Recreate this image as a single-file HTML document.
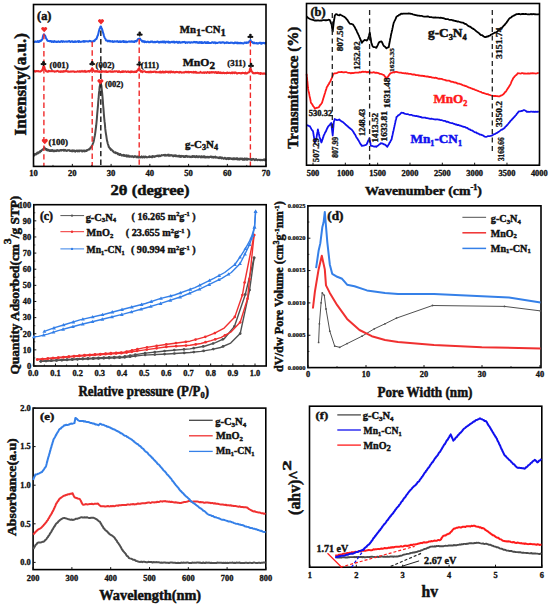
<!DOCTYPE html><html><head><meta charset="utf-8"><style>html,body{margin:0;padding:0;background:#fff;width:550px;height:606px;overflow:hidden}svg{display:block;font-family:"Liberation Serif",serif}</style></head><body><svg width="550" height="606" viewBox="0 0 550 606" font-family="Liberation Serif, serif">
<rect width="550" height="606" fill="#fff"/>
<polyline points="33.50,41.32 34.00,42.09 34.50,41.99 35.00,41.42 35.50,41.67 36.00,41.60 36.50,41.80 37.00,41.93 37.50,41.14 38.00,41.03 38.50,41.88 39.00,41.38 39.50,41.66 40.00,40.70 40.50,40.97 41.00,40.92 41.50,39.81 42.00,39.75 42.50,38.55 43.00,36.19 43.50,34.75 44.00,34.36 44.50,34.91 45.00,35.40 45.50,36.67 46.00,38.25 46.50,38.90 47.00,39.89 47.50,40.64 48.00,41.02 48.50,40.92 49.00,41.02 49.50,41.08 50.00,41.38 50.50,41.23 51.00,40.96 51.50,41.87 52.00,41.58 52.50,41.68 53.00,41.19 53.50,42.08 54.00,41.94 54.50,41.14 55.00,41.37 55.50,41.80 56.00,41.79 56.50,42.04 57.00,41.47 57.50,41.92 58.00,41.75 58.50,41.34 59.00,41.65 59.50,41.97 60.00,41.93 60.50,41.56 61.00,41.65 61.50,41.04 62.00,41.27 62.50,41.88 63.00,41.46 63.50,41.19 64.00,41.60 64.50,41.77 65.00,41.74 65.50,41.41 66.00,41.48 66.50,41.56 67.00,41.85 67.50,41.57 68.00,41.43 68.50,41.53 69.00,41.02 69.50,41.04 70.00,41.76 70.50,42.07 71.00,41.64 71.50,41.41 72.00,41.17 72.50,41.53 73.00,42.06 73.50,41.82 74.00,41.57 74.50,41.92 75.00,41.22 75.50,41.53 76.00,42.01 76.50,41.60 77.00,41.46 77.50,41.25 78.00,41.55 78.50,42.00 79.00,40.95 79.50,41.80 80.00,41.84 80.50,41.91 81.00,41.75 81.50,41.82 82.00,41.49 82.50,41.54 83.00,41.38 83.50,40.97 84.00,41.86 84.50,41.52 85.00,41.11 85.50,41.44 86.00,41.41 86.50,41.26 87.00,41.24 87.50,41.44 88.00,41.52 88.50,41.50 89.00,41.31 89.50,40.83 90.00,41.03 90.50,40.95 91.00,41.38 91.50,41.66 92.00,41.55 92.50,41.51 93.00,41.47 93.50,40.78 94.00,41.30 94.50,40.94 95.00,40.02 95.50,39.55 96.00,38.98 96.50,39.01 97.00,37.42 97.50,35.95 98.00,34.96 98.50,32.88 99.00,30.71 99.50,29.01 100.00,27.90 100.50,26.59 101.00,26.62 101.50,27.88 102.00,29.01 102.50,30.64 103.00,32.68 103.50,33.98 104.00,35.99 104.50,37.39 105.00,38.23 105.50,38.98 106.00,40.46 106.50,40.46 107.00,40.43 107.50,41.06 108.00,41.42 108.50,40.64 109.00,40.70 109.50,40.89 110.00,41.55 110.50,40.97 111.00,41.60 111.50,41.59 112.00,41.46 112.50,41.12 113.00,41.97 113.50,41.79 114.00,41.50 114.50,41.19 115.00,41.67 115.50,41.40 116.00,41.61 116.50,41.34 117.00,41.69 117.50,41.07 118.00,41.34 118.50,42.08 119.00,41.99 119.50,41.37 120.00,41.99 120.50,41.39 121.00,42.09 121.50,41.88 122.00,41.52 122.50,41.35 123.00,41.09 123.50,42.05 124.00,41.13 124.50,41.99 125.00,42.16 125.50,41.73 126.00,41.29 126.50,42.06 127.00,42.18 127.50,41.89 128.00,41.68 128.50,41.54 129.00,41.50 129.50,41.35 130.00,41.87 130.50,41.60 131.00,41.34 131.50,41.24 132.00,41.85 132.50,41.44 133.00,41.65 133.50,41.44 134.00,42.02 134.50,42.00 135.00,40.96 135.50,41.03 136.00,40.96 136.50,41.38 137.00,40.73 137.50,39.70 138.00,38.96 138.50,38.88 139.00,38.66 139.50,38.72 140.00,38.43 140.50,39.60 141.00,40.00 141.50,40.34 142.00,41.35 142.50,40.86 143.00,41.64 143.50,41.09 144.00,41.28 144.50,42.15 145.00,41.42 145.50,42.05 146.00,41.89 146.50,42.17 147.00,41.67 147.50,41.65 148.00,41.61 148.50,42.25 149.00,41.97 149.50,42.36 150.00,42.30 150.50,41.48 151.00,41.94 151.50,41.46 152.00,41.39 152.50,41.43 153.00,42.31 153.50,42.23 154.00,42.28 154.50,41.75 155.00,42.06 155.50,42.25 156.00,41.81 156.50,42.03 157.00,41.65 157.50,41.50 158.00,41.71 158.50,42.40 159.00,42.04 159.50,42.45 160.00,41.94 160.50,41.74 161.00,42.31 161.50,42.36 162.00,41.47 162.50,42.20 163.00,41.57 163.50,41.61 164.00,42.46 164.50,41.54 165.00,41.76 165.50,42.59 166.00,41.97 166.50,41.64 167.00,41.71 167.50,41.80 168.00,42.36 168.50,41.66 169.00,42.55 169.50,41.97 170.00,42.63 170.50,42.57 171.00,41.90 171.50,41.86 172.00,42.11 172.50,41.70 173.00,42.32 173.50,41.65 174.00,41.62 174.50,42.70 175.00,41.95 175.50,42.29 176.00,42.13 176.50,41.99 177.00,41.72 177.50,42.66 178.00,42.73 178.50,42.74 179.00,41.80 179.50,41.92 180.00,42.37 180.50,42.77 181.00,42.30 181.50,42.46 182.00,42.44 182.50,42.00 183.00,42.32 183.50,42.07 184.00,42.01 184.50,41.83 185.00,42.06 185.50,42.84 186.00,42.25 186.50,42.49 187.00,42.48 187.50,42.82 188.00,42.22 188.50,42.13 189.00,42.16 189.50,42.15 190.00,42.74 190.50,42.80 191.00,42.16 191.50,42.20 192.00,42.44 192.50,42.48 193.00,42.50 193.50,42.12 194.00,41.88 194.50,42.14 195.00,41.95 195.50,42.49 196.00,41.96 196.50,41.97 197.00,42.60 197.50,42.22 198.00,42.78 198.50,42.46 199.00,42.87 199.50,42.10 200.00,42.49 200.50,42.82 201.00,42.03 201.50,43.00 202.00,42.15 202.50,42.82 203.00,43.06 203.50,42.88 204.00,42.34 204.50,42.11 205.00,42.56 205.50,43.01 206.00,42.33 206.50,43.00 207.00,42.18 207.50,43.03 208.00,42.07 208.50,42.39 209.00,43.04 209.50,42.94 210.00,43.06 210.50,42.99 211.00,42.89 211.50,42.83 212.00,42.28 212.50,42.56 213.00,42.27 213.50,42.89 214.00,42.84 214.50,42.39 215.00,42.19 215.50,43.18 216.00,43.02 216.50,42.74 217.00,42.74 217.50,43.08 218.00,42.65 218.50,42.60 219.00,42.54 219.50,42.46 220.00,42.21 220.50,42.90 221.00,42.65 221.50,42.82 222.00,42.27 222.50,42.60 223.00,42.37 223.50,42.36 224.00,42.51 224.50,43.14 225.00,42.68 225.50,42.69 226.00,42.92 226.50,42.51 227.00,42.27 227.50,42.85 228.00,42.82 228.50,42.99 229.00,42.77 229.50,43.05 230.00,43.10 230.50,42.56 231.00,42.85 231.50,42.84 232.00,42.57 232.50,42.78 233.00,42.95 233.50,43.33 234.00,43.35 234.50,42.65 235.00,43.06 235.50,42.41 236.00,42.44 236.50,42.93 237.00,43.33 237.50,42.55 238.00,43.22 238.50,43.35 239.00,42.73 239.50,43.15 240.00,43.32 240.50,42.80 241.00,43.17 241.50,43.20 242.00,43.05 242.50,43.34 243.00,43.38 243.50,43.44 244.00,43.01 244.50,42.56 245.00,42.63 245.50,42.57 246.00,42.93 246.50,43.09 247.00,42.26 247.50,42.86 248.00,42.76 248.50,42.14 249.00,41.99 249.50,41.09 250.00,41.09 250.50,40.00 251.00,41.38 251.50,41.83 252.00,42.15 252.50,42.10 253.00,43.04 253.50,43.24 254.00,42.44 254.50,43.21 255.00,43.34 255.50,43.18 256.00,43.26 256.50,43.01 257.00,43.55 257.50,43.63 258.00,43.00 258.50,43.47 259.00,43.08 259.50,42.80 260.00,42.99 260.50,42.78 261.00,43.65 261.50,43.71 262.00,42.80 262.50,43.34 263.00,43.13 263.50,42.82 264.00,43.03 264.50,42.98 265.00,43.54 265.50,42.73 266.00,42.94" fill="none" stroke="#1f5ee8" stroke-width="2.0" stroke-linejoin="round" />
<polyline points="33.50,71.21 34.00,70.75 34.50,71.42 35.00,71.39 35.50,71.64 36.00,70.95 36.50,71.03 37.00,71.31 37.50,71.01 38.00,71.34 38.50,70.96 39.00,71.42 39.50,71.52 40.00,71.50 40.50,71.63 41.00,71.07 41.50,70.78 42.00,70.65 42.50,69.50 43.00,67.66 43.50,65.90 44.00,66.02 44.50,67.51 45.00,69.81 45.50,69.99 46.00,71.14 46.50,71.11 47.00,71.66 47.50,71.48 48.00,71.75 48.50,70.85 49.00,71.27 49.50,71.36 50.00,71.09 50.50,71.31 51.00,71.15 51.50,71.35 52.00,70.77 52.50,71.26 53.00,71.28 53.50,71.12 54.00,71.23 54.50,71.65 55.00,71.55 55.50,71.34 56.00,71.51 56.50,71.22 57.00,71.03 57.50,70.81 58.00,71.12 58.50,71.47 59.00,71.79 59.50,71.73 60.00,71.38 60.50,71.91 61.00,71.33 61.50,71.74 62.00,71.28 62.50,71.65 63.00,71.92 63.50,71.17 64.00,71.02 64.50,71.52 65.00,71.42 65.50,71.23 66.00,70.85 66.50,71.27 67.00,71.31 67.50,71.29 68.00,71.79 68.50,71.49 69.00,71.66 69.50,71.84 70.00,71.68 70.50,71.40 71.00,71.68 71.50,71.56 72.00,71.57 72.50,71.55 73.00,71.31 73.50,71.56 74.00,71.56 74.50,71.90 75.00,71.73 75.50,71.80 76.00,71.71 76.50,71.77 77.00,71.54 77.50,71.26 78.00,71.17 78.50,71.66 79.00,71.84 79.50,71.48 80.00,71.05 80.50,71.80 81.00,71.41 81.50,71.40 82.00,70.93 82.50,71.44 83.00,71.70 83.50,71.35 84.00,71.27 84.50,71.60 85.00,70.90 85.50,71.44 86.00,71.92 86.50,71.63 87.00,71.31 87.50,71.62 88.00,71.51 88.50,71.06 89.00,71.03 89.50,71.72 90.00,70.92 90.50,70.42 91.00,70.68 91.50,69.46 92.00,68.44 92.50,68.72 93.00,69.89 93.50,70.10 94.00,71.15 94.50,71.46 95.00,71.68 95.50,71.13 96.00,71.53 96.50,71.13 97.00,71.51 97.50,71.09 98.00,71.78 98.50,71.87 99.00,71.28 99.50,71.17 100.00,71.99 100.50,71.71 101.00,71.87 101.50,70.98 102.00,71.94 102.50,71.64 103.00,71.31 103.50,71.44 104.00,71.81 104.50,71.84 105.00,71.19 105.50,71.67 106.00,71.17 106.50,72.06 107.00,71.49 107.50,72.01 108.00,71.81 108.50,71.68 109.00,71.30 109.50,71.60 110.00,71.18 110.50,71.18 111.00,71.82 111.50,71.43 112.00,71.87 112.50,71.31 113.00,71.84 113.50,71.84 114.00,71.39 114.50,71.18 115.00,71.50 115.50,71.61 116.00,71.18 116.50,71.28 117.00,71.14 117.50,71.74 118.00,72.07 118.50,71.33 119.00,71.13 119.50,71.87 120.00,72.00 120.50,72.17 121.00,71.79 121.50,71.49 122.00,72.04 122.50,71.25 123.00,71.89 123.50,71.23 124.00,71.57 124.50,71.68 125.00,71.56 125.50,71.33 126.00,71.40 126.50,72.05 127.00,71.66 127.50,71.80 128.00,71.39 128.50,71.95 129.00,71.53 129.50,71.82 130.00,72.17 130.50,72.27 131.00,71.22 131.50,72.05 132.00,72.12 132.50,71.53 133.00,71.59 133.50,71.81 134.00,72.17 134.50,71.59 135.00,72.11 135.50,71.95 136.00,71.24 136.50,71.97 137.00,70.76 137.50,70.46 138.00,70.32 138.50,68.80 139.00,68.68 139.50,68.88 140.00,70.12 140.50,71.25 141.00,71.77 141.50,71.05 142.00,71.19 142.50,72.10 143.00,71.25 143.50,71.53 144.00,71.37 144.50,71.36 145.00,71.30 145.50,71.98 146.00,72.11 146.50,72.05 147.00,72.23 147.50,72.04 148.00,71.74 148.50,72.01 149.00,72.39 149.50,72.04 150.00,71.60 150.50,71.41 151.00,72.38 151.50,72.00 152.00,71.74 152.50,72.03 153.00,71.98 153.50,71.94 154.00,71.44 154.50,71.77 155.00,71.84 155.50,71.61 156.00,72.36 156.50,71.86 157.00,72.13 157.50,72.19 158.00,72.23 158.50,72.21 159.00,72.24 159.50,71.70 160.00,72.50 160.50,71.60 161.00,72.44 161.50,72.38 162.00,72.38 162.50,71.50 163.00,71.55 163.50,72.35 164.00,71.98 164.50,71.87 165.00,72.55 165.50,71.52 166.00,72.06 166.50,71.97 167.00,71.62 167.50,71.92 168.00,72.27 168.50,72.47 169.00,71.53 169.50,72.08 170.00,71.61 170.50,72.39 171.00,71.61 171.50,71.56 172.00,71.95 172.50,72.33 173.00,71.88 173.50,71.68 174.00,72.41 174.50,72.43 175.00,72.49 175.50,71.89 176.00,72.02 176.50,71.83 177.00,72.18 177.50,71.93 178.00,71.94 178.50,72.44 179.00,72.63 179.50,72.23 180.00,71.70 180.50,72.31 181.00,72.09 181.50,72.69 182.00,72.40 182.50,72.53 183.00,72.38 183.50,72.21 184.00,72.61 184.50,72.54 185.00,71.95 185.50,71.81 186.00,72.04 186.50,72.21 187.00,71.75 187.50,72.03 188.00,72.28 188.50,71.70 189.00,72.56 189.50,72.38 190.00,72.01 190.50,72.00 191.00,72.06 191.50,72.04 192.00,72.51 192.50,72.24 193.00,72.27 193.50,71.86 194.00,72.71 194.50,72.06 195.00,72.07 195.50,71.79 196.00,72.79 196.50,72.25 197.00,72.73 197.50,72.75 198.00,72.80 198.50,72.63 199.00,72.76 199.50,72.76 200.00,72.63 200.50,71.91 201.00,72.34 201.50,72.41 202.00,72.88 202.50,72.66 203.00,72.58 203.50,72.63 204.00,72.22 204.50,72.87 205.00,72.55 205.50,72.29 206.00,72.37 206.50,72.94 207.00,72.46 207.50,72.07 208.00,72.06 208.50,72.66 209.00,72.53 209.50,72.92 210.00,72.13 210.50,72.39 211.00,72.75 211.50,72.01 212.00,72.08 212.50,72.58 213.00,72.28 213.50,72.11 214.00,72.29 214.50,72.71 215.00,72.60 215.50,72.12 216.00,72.12 216.50,72.98 217.00,72.76 217.50,72.26 218.00,73.02 218.50,72.11 219.00,72.50 219.50,73.03 220.00,72.89 220.50,72.43 221.00,73.11 221.50,72.80 222.00,73.10 222.50,73.14 223.00,72.63 223.50,72.92 224.00,72.78 224.50,73.23 225.00,73.08 225.50,73.01 226.00,73.11 226.50,73.33 227.00,72.52 227.50,72.47 228.00,73.08 228.50,73.11 229.00,72.84 229.50,72.82 230.00,72.73 230.50,73.27 231.00,73.18 231.50,72.96 232.00,72.37 232.50,73.27 233.00,72.85 233.50,72.56 234.00,72.69 234.50,73.13 235.00,72.38 235.50,72.52 236.00,72.73 236.50,73.38 237.00,73.23 237.50,73.49 238.00,73.02 238.50,73.06 239.00,73.05 239.50,73.03 240.00,73.05 240.50,73.37 241.00,73.52 241.50,72.93 242.00,73.18 242.50,72.83 243.00,72.83 243.50,73.05 244.00,73.14 244.50,73.11 245.00,73.57 245.50,72.67 246.00,73.18 246.50,73.56 247.00,73.25 247.50,73.01 248.00,72.67 248.50,72.40 249.00,72.31 249.50,71.02 250.00,69.10 250.50,68.36 251.00,69.40 251.50,71.00 252.00,71.75 252.50,72.54 253.00,73.23 253.50,72.90 254.00,73.39 254.50,73.14 255.00,73.02 255.50,73.18 256.00,72.83 256.50,73.11 257.00,73.19 257.50,72.77 258.00,72.96 258.50,73.07 259.00,73.74 259.50,73.45 260.00,73.13 260.50,73.93 261.00,73.12 261.50,73.42 262.00,73.67 262.50,73.63 263.00,73.36 263.50,73.75 264.00,73.44 264.50,73.70 265.00,73.46 265.50,74.00 266.00,73.73" fill="none" stroke="#f02a2a" stroke-width="2.0" stroke-linejoin="round" />
<polyline points="33.50,154.82 33.85,154.67 34.20,155.55 34.55,154.40 34.90,153.93 35.25,154.02 35.60,154.11 35.95,154.52 36.30,153.60 36.65,153.82 37.00,153.75 37.35,152.57 37.70,153.04 38.05,153.33 38.40,152.58 38.75,152.39 39.10,151.97 39.45,152.56 39.80,152.40 40.15,151.07 40.50,151.45 40.85,151.04 41.20,151.12 41.55,150.13 41.90,150.01 42.25,149.68 42.60,149.55 42.95,149.52 43.30,149.14 43.65,148.62 44.00,148.14 44.35,147.38 44.70,147.95 45.05,148.60 45.40,148.44 45.75,149.03 46.10,149.81 46.45,149.01 46.80,150.15 47.15,149.32 47.50,149.81 47.85,150.58 48.20,149.75 48.55,150.23 48.90,150.16 49.25,150.82 49.60,151.00 49.95,150.13 50.30,150.43 50.65,150.99 51.00,150.56 51.35,150.16 51.70,150.90 52.05,150.37 52.40,150.59 52.75,149.99 53.10,151.29 53.45,150.88 53.80,151.24 54.15,151.32 54.50,150.43 54.85,150.80 55.20,150.66 55.55,151.06 55.90,151.15 56.25,150.33 56.60,150.36 56.95,150.90 57.30,150.50 57.65,150.11 58.00,150.17 58.35,150.62 58.70,150.65 59.05,151.09 59.40,150.51 59.75,150.59 60.10,149.97 60.45,150.29 60.80,150.09 61.15,150.60 61.50,150.02 61.85,149.93 62.20,150.10 62.55,150.21 62.90,150.01 63.25,150.37 63.60,149.85 63.95,150.78 64.30,150.57 64.65,150.39 65.00,149.80 65.35,150.17 65.70,150.67 66.05,150.64 66.40,150.88 66.75,151.01 67.10,150.29 67.45,150.55 67.80,150.36 68.15,150.12 68.50,150.16 68.85,150.34 69.20,150.15 69.55,150.76 69.90,150.99 70.25,150.83 70.60,151.02 70.95,150.44 71.30,150.43 71.65,150.93 72.00,151.36 72.35,150.78 72.70,150.26 73.05,150.30 73.40,150.69 73.75,151.12 74.10,150.45 74.45,150.65 74.80,151.26 75.15,151.67 75.50,150.84 75.85,151.18 76.20,151.08 76.55,150.44 76.90,150.84 77.25,150.60 77.60,150.74 77.95,151.42 78.30,151.30 78.65,150.47 79.00,150.52 79.35,151.36 79.70,150.54 80.05,150.82 80.40,150.75 80.75,150.45 81.10,150.42 81.45,150.55 81.80,150.87 82.15,151.55 82.50,151.15 82.85,150.61 83.20,151.16 83.55,150.61 83.90,150.89 84.25,150.61 84.60,151.39 84.95,150.58 85.30,151.12 85.65,150.86 86.00,151.08 86.35,150.64 86.70,150.85 87.05,150.11 87.40,150.32 87.75,150.08 88.10,149.79 88.45,149.66 88.80,149.43 89.15,149.03 89.50,149.45 89.85,148.84 90.20,148.43 90.55,147.44 90.90,147.65 91.25,146.76 91.60,146.29 91.95,145.96 92.30,145.43 92.65,144.26 93.00,143.35 93.35,142.59 93.70,141.24 94.05,139.66 94.40,137.56 94.75,135.95 95.10,134.09 95.45,131.45 95.80,128.67 96.15,125.99 96.50,122.49 96.85,118.83 97.20,114.13 97.55,110.43 97.90,106.71 98.25,101.75 98.60,98.48 98.95,93.41 99.30,90.65 99.65,86.64 100.00,85.10 100.35,83.79 100.70,82.93 101.05,84.59 101.40,85.65 101.75,89.43 102.10,92.37 102.45,96.44 102.80,100.26 103.15,105.22 103.50,109.09 103.85,113.79 104.20,117.96 104.55,121.47 104.90,124.21 105.25,128.67 105.60,131.58 105.95,133.89 106.30,135.94 106.65,138.30 107.00,140.58 107.35,141.67 107.70,143.51 108.05,144.50 108.40,145.33 108.75,146.91 109.10,147.00 109.45,147.92 109.80,147.78 110.15,148.81 110.50,148.67 110.85,149.91 111.20,149.33 111.55,149.67 111.90,150.02 112.25,150.29 112.60,150.99 112.95,150.99 113.30,151.10 113.65,152.24 114.00,152.34 114.35,152.20 114.70,152.58 115.05,152.78 115.40,152.21 115.75,153.11 116.10,152.54 116.45,153.11 116.80,153.00 117.15,152.90 117.50,153.85 117.85,154.18 118.20,153.54 118.55,154.41 118.90,153.86 119.25,154.40 119.60,154.97 119.95,154.81 120.30,154.01 120.65,154.64 121.00,154.69 121.35,154.71 121.70,155.51 122.05,155.13 122.40,155.52 122.75,155.49 123.10,155.40 123.45,154.85 123.80,155.70 124.15,156.03 124.50,155.15 124.85,155.81 125.20,155.65 125.55,155.51 125.90,156.03 126.25,156.42 126.60,155.23 126.95,156.41 127.30,155.79 127.65,156.41 128.00,155.60 128.35,156.35 128.70,155.59 129.05,155.93 129.40,156.80 129.75,156.43 130.10,156.64 130.45,156.26 130.80,156.31 131.15,156.38 131.50,156.78 131.85,156.76 132.20,156.11 132.55,156.46 132.90,156.63 133.25,156.71 133.60,157.21 133.95,157.13 134.30,156.27 134.65,156.60 135.00,156.29 135.35,156.22 135.70,156.32 136.05,156.49 136.40,157.25 136.75,157.12 137.10,157.29 137.45,156.63 137.80,156.46 138.15,157.52 138.50,157.33 138.85,157.49 139.20,156.28 139.55,156.77 139.90,157.08 140.25,157.21 140.60,157.44 140.95,156.95 141.30,156.76 141.65,156.26 142.00,157.29 142.35,157.52 142.70,157.42 143.05,157.10 143.40,156.69 143.75,156.55 144.10,157.25 144.45,157.45 144.80,157.48 145.15,156.46 145.50,156.99 145.85,156.89 146.20,156.78 146.55,157.26 146.90,157.44 147.25,157.16 147.60,157.13 147.95,157.11 148.30,157.06 148.65,156.91 149.00,156.53 149.35,157.22 149.70,156.35 150.05,157.03 150.40,156.66 150.75,156.85 151.10,156.91 151.45,156.67 151.80,157.28 152.15,156.28 152.50,155.95 152.85,157.13 153.20,156.26 153.55,156.18 153.90,156.32 154.25,156.52 154.60,156.99 154.95,156.59 155.30,156.04 155.65,156.29 156.00,156.14 156.35,156.17 156.70,156.02 157.05,155.66 157.40,155.92 157.75,155.87 158.10,155.59 158.45,156.35 158.80,155.72 159.15,155.41 159.50,155.91 159.85,156.23 160.20,156.11 160.55,155.87 160.90,155.97 161.25,155.42 161.60,155.13 161.95,155.24 162.30,155.32 162.65,155.19 163.00,155.40 163.35,154.95 163.70,154.88 164.05,155.00 164.40,154.89 164.75,155.64 165.10,155.26 165.45,154.78 165.80,155.04 166.15,155.61 166.50,155.25 166.85,155.25 167.20,155.07 167.55,154.84 167.90,155.43 168.25,154.74 168.60,155.69 168.95,154.77 169.30,155.70 169.65,155.25 170.00,155.67 170.35,155.58 170.70,155.01 171.05,155.57 171.40,154.99 171.75,155.24 172.10,155.45 172.45,155.35 172.80,155.87 173.15,156.32 173.50,155.53 173.85,156.18 174.20,155.41 174.55,156.07 174.90,155.63 175.25,155.90 175.60,155.35 175.95,156.33 176.30,155.56 176.65,155.92 177.00,155.72 177.35,156.42 177.70,156.17 178.05,156.23 178.40,156.43 178.75,155.81 179.10,155.58 179.45,156.61 179.80,155.97 180.15,156.65 180.50,156.86 180.85,156.47 181.20,155.81 181.55,156.81 181.90,156.55 182.25,156.08 182.60,156.06 182.95,156.46 183.30,155.96 183.65,156.99 184.00,156.74 184.35,156.89 184.70,156.33 185.05,157.04 185.40,156.02 185.75,156.78 186.10,156.19 186.45,155.87 186.80,156.02 187.15,156.14 187.50,156.87 187.85,156.38 188.20,156.52 188.55,156.70 188.90,156.25 189.25,156.74 189.60,156.79 189.95,157.12 190.30,156.58 190.65,157.05 191.00,157.20 191.35,156.95 191.70,156.50 192.05,156.31 192.40,156.09 192.75,157.05 193.10,156.15 193.45,156.71 193.80,156.58 194.15,156.05 194.50,156.28 194.85,157.08 195.20,156.71 195.55,157.22 195.90,157.21 196.25,156.15 196.60,156.92 196.95,156.10 197.30,156.60 197.65,156.63 198.00,157.31 198.35,156.84 198.70,156.32 199.05,156.74 199.40,156.77 199.75,156.35 200.10,156.57 200.45,157.25 200.80,157.39 201.15,157.13 201.50,156.21 201.85,157.31 202.20,156.73 202.55,157.23 202.90,156.38 203.25,156.35 203.60,157.34 203.95,156.54 204.30,156.23 204.65,156.83 205.00,157.47 205.35,157.28 205.70,156.71 206.05,157.49 206.40,157.24 206.75,157.31 207.10,157.06 207.45,156.74 207.80,157.41 208.15,156.85 208.50,157.46 208.85,156.97 209.20,157.44 209.55,156.88 209.90,156.82 210.25,157.04 210.60,156.69 210.95,156.48 211.30,157.06 211.65,157.40 212.00,156.66 212.35,157.43 212.70,157.34 213.05,157.33 213.40,156.91 213.75,157.71 214.10,157.48 214.45,157.24 214.80,156.68 215.15,157.32 215.50,156.63 215.85,157.82 216.20,157.13 216.55,157.21 216.90,157.49 217.25,157.64 217.60,157.61 217.95,157.52 218.30,157.76 218.65,158.08 219.00,157.60 219.35,157.71 219.70,158.15 220.05,157.14 220.40,157.39 220.75,157.64 221.10,157.54 221.45,158.46 221.80,157.53 222.15,157.52 222.50,157.83 222.85,158.12 223.20,158.57 223.55,158.84 223.90,158.69 224.25,158.41 224.60,157.71 224.95,157.79 225.30,158.56 225.65,158.85 226.00,158.17 226.35,159.10 226.70,158.57 227.05,158.61 227.40,158.68 227.75,157.99 228.10,158.13 228.45,159.14 228.80,158.28 229.15,158.05 229.50,158.33 229.85,158.92 230.20,158.33 230.55,158.27 230.90,158.37 231.25,158.65 231.60,159.00 231.95,158.44 232.30,159.20 232.65,159.35 233.00,159.16 233.35,158.20 233.70,158.53 234.05,159.33 234.40,159.26 234.75,158.33 235.10,158.75 235.45,158.66 235.80,159.17 236.15,158.25 236.50,158.63 236.85,159.21 237.20,159.40 237.55,158.32 237.90,159.04 238.25,159.15 238.60,159.44 238.95,158.87 239.30,159.59 239.65,158.60 240.00,158.50 240.35,158.54 240.70,159.14 241.05,158.55 241.40,158.76 241.75,158.68 242.10,158.51 242.45,159.70 242.80,158.90 243.15,159.73 243.50,159.43 243.85,158.79 244.20,159.73 244.55,158.54 244.90,159.82 245.25,158.60 245.60,158.90 245.95,159.30 246.30,158.61 246.65,159.60 247.00,158.73 247.35,159.70 247.70,158.69 248.05,159.35 248.40,158.95 248.75,159.06 249.10,159.34 249.45,159.20 249.80,159.24 250.15,159.59 250.50,159.01 250.85,159.00 251.20,159.67 251.55,159.18 251.90,160.02 252.25,159.37 252.60,159.45 252.95,158.87 253.30,158.88 253.65,159.01 254.00,159.70 254.35,159.76 254.70,160.15 255.05,159.49 255.40,159.86 255.75,159.40 256.10,159.06 256.45,159.52 256.80,159.90 257.15,160.05 257.50,160.25 257.85,160.11 258.20,159.78 258.55,159.77 258.90,159.72 259.25,159.70 259.60,159.98 259.95,159.86 260.30,160.24 260.65,159.72 261.00,159.76 261.35,160.24 261.70,160.05 262.05,159.87 262.40,159.93 262.75,160.26 263.10,160.02 263.45,159.58 263.80,159.66 264.15,160.05 264.50,159.34 264.85,159.89 265.20,160.47 265.55,159.62 265.90,159.91" fill="none" stroke="#4a4a4a" stroke-width="2.0" stroke-linejoin="round" />
<line x1="43.90" y1="33.80" x2="43.90" y2="166.00" stroke="#f02a2a" stroke-width="1.4" stroke-dasharray="5.4 3.2"/>
<line x1="92.20" y1="41.70" x2="92.20" y2="166.00" stroke="#f02a2a" stroke-width="1.4" stroke-dasharray="5.4 3.2"/>
<line x1="139.20" y1="39.00" x2="139.20" y2="166.00" stroke="#f02a2a" stroke-width="1.4" stroke-dasharray="5.4 3.2"/>
<line x1="250.40" y1="41.00" x2="250.40" y2="166.00" stroke="#f02a2a" stroke-width="1.4" stroke-dasharray="5.4 3.2"/>
<line x1="100.80" y1="30.50" x2="100.80" y2="166.00" stroke="#222" stroke-width="1.5" stroke-dasharray="5.4 3.2"/>
<rect x="33.5" y="4.5" width="232.5" height="161.9" fill="none" stroke="#000" stroke-width="1.6"/>
<line x1="33.60" y1="166.40" x2="33.60" y2="163.90" stroke="#111" stroke-width="1"/>
<line x1="72.35" y1="166.40" x2="72.35" y2="163.90" stroke="#111" stroke-width="1"/>
<line x1="111.10" y1="166.40" x2="111.10" y2="163.90" stroke="#111" stroke-width="1"/>
<line x1="149.85" y1="166.40" x2="149.85" y2="163.90" stroke="#111" stroke-width="1"/>
<line x1="188.60" y1="166.40" x2="188.60" y2="163.90" stroke="#111" stroke-width="1"/>
<line x1="227.35" y1="166.40" x2="227.35" y2="163.90" stroke="#111" stroke-width="1"/>
<line x1="266.10" y1="166.40" x2="266.10" y2="163.90" stroke="#111" stroke-width="1"/>
<line x1="52.98" y1="166.40" x2="52.98" y2="164.90" stroke="#111" stroke-width="0.8"/>
<line x1="91.72" y1="166.40" x2="91.72" y2="164.90" stroke="#111" stroke-width="0.8"/>
<line x1="130.47" y1="166.40" x2="130.47" y2="164.90" stroke="#111" stroke-width="0.8"/>
<line x1="169.22" y1="166.40" x2="169.22" y2="164.90" stroke="#111" stroke-width="0.8"/>
<line x1="207.97" y1="166.40" x2="207.97" y2="164.90" stroke="#111" stroke-width="0.8"/>
<line x1="246.72" y1="166.40" x2="246.72" y2="164.90" stroke="#111" stroke-width="0.8"/>
<text x="33.6" y="176.2" font-size="8.6" text-anchor="middle" fill="#111" font-weight="bold"  stroke="#111" stroke-width="0.34">10</text>
<text x="72.35" y="176.2" font-size="8.6" text-anchor="middle" fill="#111" font-weight="bold"  stroke="#111" stroke-width="0.34">20</text>
<text x="111.1" y="176.2" font-size="8.6" text-anchor="middle" fill="#111" font-weight="bold"  stroke="#111" stroke-width="0.34">30</text>
<text x="149.85" y="176.2" font-size="8.6" text-anchor="middle" fill="#111" font-weight="bold"  stroke="#111" stroke-width="0.34">40</text>
<text x="188.6" y="176.2" font-size="8.6" text-anchor="middle" fill="#111" font-weight="bold"  stroke="#111" stroke-width="0.34">50</text>
<text x="227.35" y="176.2" font-size="8.6" text-anchor="middle" fill="#111" font-weight="bold"  stroke="#111" stroke-width="0.34">60</text>
<text x="266.1" y="176.2" font-size="8.6" text-anchor="middle" fill="#111" font-weight="bold"  stroke="#111" stroke-width="0.34">70</text>
<text x="110.5" y="195.3" font-size="15.5" text-anchor="start" fill="#111" font-weight="bold" textLength="79" lengthAdjust="spacingAndGlyphs"  stroke="#111" stroke-width="0.50">2θ (degree)</text>
<text transform="translate(25.6,135.5) rotate(-90)" font-size="15.8" text-anchor="start" fill="#111" font-weight="bold" textLength="102.5" lengthAdjust="spacingAndGlyphs"  stroke="#111" stroke-width="0.50">Intensity(a.u.)</text>
<text x="37.1" y="19.5" font-size="12.2" text-anchor="start" fill="#111" font-weight="bold" textLength="14.3" lengthAdjust="spacingAndGlyphs"  stroke="#111" stroke-width="0.49">(a)</text>
<path d="M44.2,32.35 L41.35,29.35 A1.44,1.44 0 0 1 44.2,27.85 A1.44,1.44 0 0 1 47.050000000000004,29.35 Z" fill="#f02a2a"/>
<path d="M101,24.549999999999997 L98.15,21.55 A1.44,1.44 0 0 1 101,20.05 A1.44,1.44 0 0 1 103.85,21.55 Z" fill="#f02a2a"/>
<path d="M100.4,84.55 L97.55000000000001,81.55 A1.44,1.44 0 0 1 100.4,80.05 A1.44,1.44 0 0 1 103.25,81.55 Z" fill="#f02a2a"/>
<path d="M44.8,144.15 L41.949999999999996,141.15 A1.44,1.44 0 0 1 44.8,139.65 A1.44,1.44 0 0 1 47.65,141.15 Z" fill="#f02a2a"/>
<g fill="#111"><circle cx="139.7" cy="32.90" r="1.35"/><ellipse cx="138.20" cy="34.70" rx="1.5" ry="1.1"/><ellipse cx="141.20" cy="34.70" rx="1.5" ry="1.1"/><rect x="139.10" y="33.70" width="1.2" height="2.8"/></g>
<g fill="#111"><circle cx="250.4" cy="35.10" r="1.35"/><ellipse cx="248.90" cy="36.90" rx="1.5" ry="1.1"/><ellipse cx="251.90" cy="36.90" rx="1.5" ry="1.1"/><rect x="249.80" y="35.90" width="1.2" height="2.8"/></g>
<g fill="#111"><circle cx="43.5" cy="62.30" r="1.35"/><ellipse cx="42.00" cy="64.10" rx="1.5" ry="1.1"/><ellipse cx="45.00" cy="64.10" rx="1.5" ry="1.1"/><rect x="42.90" y="63.10" width="1.2" height="2.8"/></g>
<g fill="#111"><circle cx="92.2" cy="62.30" r="1.35"/><ellipse cx="90.70" cy="64.10" rx="1.5" ry="1.1"/><ellipse cx="93.70" cy="64.10" rx="1.5" ry="1.1"/><rect x="91.60" y="63.10" width="1.2" height="2.8"/></g>
<g fill="#111"><circle cx="139.4" cy="62.70" r="1.35"/><ellipse cx="137.90" cy="64.50" rx="1.5" ry="1.1"/><ellipse cx="140.90" cy="64.50" rx="1.5" ry="1.1"/><rect x="138.80" y="63.50" width="1.2" height="2.8"/></g>
<g fill="#111"><circle cx="251" cy="64.10" r="1.35"/><ellipse cx="249.50" cy="65.90" rx="1.5" ry="1.1"/><ellipse cx="252.50" cy="65.90" rx="1.5" ry="1.1"/><rect x="250.40" y="64.90" width="1.2" height="2.8"/></g>
<text x="49.6" y="68.3" font-size="8.8" text-anchor="start" fill="#111" font-weight="bold" textLength="19" lengthAdjust="spacingAndGlyphs"  stroke="#111" stroke-width="0.35">(001)</text>
<text x="95.5" y="68.3" font-size="8.8" text-anchor="start" fill="#111" font-weight="bold" textLength="19" lengthAdjust="spacingAndGlyphs"  stroke="#111" stroke-width="0.35">(002)</text>
<text x="140.8" y="68.3" font-size="8.8" text-anchor="start" fill="#111" font-weight="bold" textLength="18.1" lengthAdjust="spacingAndGlyphs"  stroke="#111" stroke-width="0.35">(111)</text>
<text x="227.3" y="66.3" font-size="8.0" text-anchor="start" fill="#111" font-weight="bold" textLength="18.3" lengthAdjust="spacingAndGlyphs"  stroke="#111" stroke-width="0.32">(311)</text>
<text x="105" y="87.2" font-size="8.8" text-anchor="start" fill="#111" font-weight="bold" textLength="18.3" lengthAdjust="spacingAndGlyphs"  stroke="#111" stroke-width="0.35">(002)</text>
<text x="48.5" y="144.7" font-size="8.8" text-anchor="start" fill="#111" font-weight="bold" textLength="19.5" lengthAdjust="spacingAndGlyphs"  stroke="#111" stroke-width="0.35">(100)</text>
<text x="179.8" y="33.4" font-size="9.6" text-anchor="start" fill="#111" font-weight="bold" textLength="46" lengthAdjust="spacingAndGlyphs"  stroke="#111" stroke-width="0.38">Mn<tspan font-size="9.5" dy="2.8">1</tspan><tspan dy="-2.8">-CN</tspan><tspan font-size="9.5" dy="2.8">1</tspan></text>
<text x="182.8" y="66.2" font-size="10.5" text-anchor="start" fill="#111" font-weight="bold" textLength="32.2" lengthAdjust="spacingAndGlyphs"  stroke="#111" stroke-width="0.42">MnO<tspan font-size="10" dy="2.6">2</tspan></text>
<text x="185" y="148" font-size="10" text-anchor="start" fill="#111" font-weight="bold" textLength="33" lengthAdjust="spacingAndGlyphs"  stroke="#111" stroke-width="0.40">g-C<tspan font-size="7.5" dy="1.8">3</tspan><tspan dy="-1.8">N</tspan><tspan font-size="7.5" dy="1.8">4</tspan></text>
<polyline points="306.50,16.50 307.38,17.24 308.25,18.01 309.12,18.49 310.00,19.00 311.00,19.38 312.00,19.53 313.00,19.86 314.00,20.29 315.00,20.50 316.00,20.41 317.00,20.67 318.00,20.20 319.00,20.65 320.00,20.65 321.00,20.38 322.00,20.50 323.07,20.11 324.14,20.20 325.21,20.25 326.29,20.27 327.36,20.22 328.43,19.73 329.50,19.80 330.00,20.60 330.50,21.67 331.00,23.24 331.50,24.00 331.67,25.16 331.84,25.92 332.01,27.33 332.19,28.56 332.36,29.42 332.53,30.27 332.70,31.50 332.82,30.72 332.94,29.51 333.07,28.14 333.19,27.44 333.31,26.22 333.43,25.21 333.56,24.03 333.68,22.93 333.80,22.00 333.98,20.84 334.17,19.78 334.35,18.63 334.53,17.75 334.72,16.16 334.90,15.30 336.00,14.20 337.10,14.39 338.20,15.20 339.30,15.30 340.00,14.50 340.90,15.04 341.80,15.52 342.70,16.00 343.60,16.40 344.70,17.10 345.80,18.10 346.43,18.87 347.06,19.58 347.69,20.38 348.31,21.71 348.94,22.39 349.57,23.30 350.20,23.90 351.65,23.95 353.10,24.60 353.80,25.82 354.50,26.80 354.96,27.60 355.43,28.62 355.89,29.64 356.35,30.17 356.81,31.28 357.27,32.31 357.74,33.41 358.20,34.10 358.60,35.07 359.00,35.92 359.40,37.06 359.80,38.02 360.20,38.81 360.60,39.93 361.00,40.73 361.40,41.54 361.80,42.80 362.52,41.96 363.25,41.10 363.98,40.62 364.70,39.90 365.80,40.25 366.90,40.60 367.40,39.86 367.90,38.82 368.40,37.70 368.68,36.83 368.96,35.95 369.24,34.50 369.52,33.54 369.80,32.60 369.95,33.46 370.10,34.40 370.25,35.67 370.40,36.69 370.55,37.48 370.70,38.97 370.85,40.03 371.00,40.50 371.15,41.48 371.30,42.80 371.77,43.77 372.23,45.41 372.70,46.50 373.93,47.18 375.17,47.17 376.40,47.90 376.88,46.64 377.37,45.99 377.85,44.90 378.33,43.74 378.82,42.77 379.30,42.10 380.40,41.58 381.50,41.40 382.02,42.30 382.55,43.43 383.08,44.66 383.60,45.70 384.57,46.42 385.53,47.27 386.50,48.30 387.60,47.58 388.70,47.20 388.90,46.37 389.10,44.92 389.30,44.04 389.50,42.92 389.70,41.78 389.90,40.76 390.10,39.46 390.30,38.50 390.50,37.71 390.70,36.72 390.90,35.50 391.12,34.33 391.35,33.31 391.57,32.74 391.79,31.26 392.02,30.68 392.24,29.73 392.46,28.29 392.68,27.70 392.91,26.29 393.13,25.23 393.35,24.37 393.58,23.41 393.80,22.50 394.28,21.57 394.77,20.50 395.25,19.73 395.73,18.67 396.22,17.35 396.70,16.60 397.58,15.84 398.46,15.59 399.34,14.63 400.22,14.55 401.10,13.70 402.19,13.89 403.28,13.53 404.36,13.57 405.45,13.55 406.54,13.65 407.62,13.55 408.71,13.42 409.80,13.70 410.82,13.77 411.84,13.96 412.86,14.27 413.88,14.55 414.90,15.02 415.92,15.12 416.94,15.31 417.96,15.68 418.98,15.61 420.00,15.90 421.03,15.96 422.06,15.96 423.10,16.41 424.13,16.54 425.16,16.67 426.19,16.59 427.22,16.40 428.25,16.48 429.29,17.02 430.32,17.18 431.35,17.07 432.38,17.41 433.41,17.52 434.45,17.52 435.48,17.39 436.51,17.55 437.54,17.59 438.57,17.72 439.60,17.87 440.64,17.70 441.67,17.87 442.70,18.20 443.72,18.23 444.75,18.69 445.77,19.10 446.80,19.23 447.82,19.11 448.85,19.52 449.88,19.85 450.90,19.78 451.93,19.97 452.95,20.52 453.97,20.52 455.00,20.99 456.02,20.93 457.05,21.56 458.07,21.46 459.10,21.76 460.12,22.05 461.15,22.48 462.18,22.72 463.20,22.70 464.07,23.43 464.94,23.86 465.81,24.01 466.68,24.60 467.55,25.34 468.42,26.13 469.28,26.50 470.15,26.70 471.02,27.32 471.89,28.21 472.76,28.46 473.63,29.20 474.50,29.50 475.29,30.40 476.07,31.04 476.86,31.63 477.64,32.34 478.43,32.83 479.21,33.39 480.00,34.30 480.94,35.11 481.88,35.10 482.82,35.78 483.76,36.53 484.70,37.00 485.80,37.11 486.90,36.49 488.00,36.50 488.95,35.80 489.90,35.61 490.85,34.75 491.80,34.30 492.78,33.74 493.77,33.22 494.75,32.53 495.73,32.57 496.72,31.92 497.70,31.30 498.50,30.32 499.30,29.69 500.10,29.03 500.90,28.49 501.70,28.12 502.50,27.20 503.27,26.18 504.03,25.44 504.80,24.80 505.40,23.84 506.00,23.12 506.60,22.51 507.20,21.45 507.80,20.83 508.40,19.77 509.00,18.90 510.00,18.06 511.00,17.52 512.00,16.50 512.92,16.09 513.84,15.56 514.76,15.13 515.68,14.57 516.60,14.20 517.62,14.16 518.64,13.94 519.65,14.02 520.67,14.36 521.69,13.98 522.71,14.02 523.73,14.00 524.75,14.12 525.76,13.93 526.78,14.12 527.80,14.27 528.82,14.31 529.84,14.42 530.85,13.95 531.87,14.29 532.89,14.02 533.91,14.11 534.93,14.25 535.95,14.40 536.96,14.30 537.98,14.49 539.00,14.20" fill="none" stroke="#000" stroke-width="1.8" stroke-linejoin="round" />
<polyline points="306.60,73.90 306.70,74.61 306.80,75.79 306.90,76.89 307.00,77.62 307.10,78.63 307.20,79.82 307.30,80.94 307.40,81.68 307.50,82.64 307.60,83.79 307.70,85.04 307.80,85.94 307.90,87.20 308.00,87.96 308.10,88.90 308.31,90.13 308.51,90.93 308.72,91.87 308.93,92.82 309.14,93.61 309.34,94.59 309.55,95.95 309.76,97.06 309.96,97.55 310.17,98.64 310.38,99.72 310.59,100.70 310.79,102.01 311.00,102.80 311.57,103.48 312.14,104.34 312.71,105.28 313.29,106.38 313.86,106.82 314.43,107.85 315.00,108.60 316.17,107.93 317.33,107.76 318.50,107.40 319.20,106.74 319.90,105.39 320.60,104.55 321.30,103.81 322.00,102.80 322.31,101.83 322.61,100.83 322.92,99.85 323.23,98.88 323.53,97.66 323.84,96.67 324.15,95.69 324.45,94.76 324.76,93.78 325.07,92.96 325.37,91.66 325.68,90.69 325.99,89.91 326.29,88.99 326.60,87.70 327.17,86.60 327.73,85.94 328.30,84.70 328.87,84.04 329.43,82.67 330.00,82.00 330.44,80.99 330.88,80.02 331.31,79.08 331.75,78.20 332.19,77.11 332.62,75.96 333.06,74.91 333.50,73.90 334.47,73.31 335.43,73.33 336.40,73.04 337.37,72.85 338.33,72.20 339.30,72.10 340.45,72.15 341.60,71.83 342.75,72.24 343.90,72.29 345.05,72.06 346.20,72.10 347.38,72.51 348.55,72.80 349.72,72.88 350.90,73.30 351.99,72.91 353.08,73.17 354.17,72.79 355.26,72.54 356.35,72.57 357.44,72.66 358.53,72.59 359.62,72.22 360.71,72.32 361.80,71.90 362.84,71.75 363.89,71.99 364.93,71.76 365.97,71.94 367.01,72.38 368.06,71.94 369.10,72.34 370.14,72.31 371.19,72.64 372.23,72.70 373.27,72.22 374.31,72.36 375.36,72.84 376.40,72.60 377.43,72.81 378.46,73.04 379.49,73.79 380.51,73.93 381.54,74.06 382.57,74.52 383.60,74.80 384.33,75.68 385.05,76.62 385.77,77.61 386.50,78.50 387.12,77.45 387.73,76.87 388.35,76.22 388.97,75.16 389.58,74.42 390.20,73.40 391.22,72.97 392.24,72.59 393.26,72.20 394.28,72.49 395.30,71.90 396.33,71.82 397.36,72.13 398.39,72.44 399.42,72.64 400.45,72.72 401.48,72.76 402.50,73.14 403.53,73.07 404.56,73.45 405.59,73.13 406.62,73.68 407.65,73.46 408.68,73.78 409.71,73.97 410.74,73.96 411.77,74.27 412.80,74.66 413.82,74.32 414.85,74.57 415.88,75.19 416.91,75.02 417.94,75.13 418.97,75.60 420.00,75.50 421.00,75.82 422.00,75.60 423.00,76.01 424.00,75.91 425.00,76.42 426.00,76.43 427.00,76.73 428.00,76.44 429.00,77.11 430.00,77.00 431.06,77.03 432.12,77.59 433.18,77.54 434.23,78.00 435.29,77.72 436.35,77.88 437.41,78.32 438.47,78.79 439.52,78.70 440.58,78.92 441.64,78.91 442.70,79.30 443.72,79.59 444.75,79.79 445.77,80.33 446.80,80.51 447.82,80.62 448.85,80.69 449.88,80.95 450.90,81.72 451.93,81.77 452.95,81.80 453.98,82.42 455.00,82.50 455.95,82.66 456.91,83.13 457.86,83.71 458.82,83.57 459.77,83.90 460.73,84.20 461.68,84.58 462.64,85.04 463.59,85.34 464.55,85.64 465.50,86.10 466.45,86.18 467.40,86.83 468.35,87.18 469.30,87.72 470.25,87.83 471.20,88.37 472.15,88.58 473.10,89.21 474.05,89.23 475.00,89.80 475.96,90.15 476.91,90.48 477.87,90.84 478.82,91.25 479.78,91.60 480.73,91.82 481.69,92.48 482.64,92.92 483.60,93.00 484.61,93.36 485.62,93.73 486.63,94.10 487.64,94.18 488.66,94.67 489.67,94.91 490.68,95.25 491.69,95.51 492.70,95.90 493.83,96.01 494.97,95.90 496.10,95.99 497.23,96.05 498.37,96.37 499.50,96.40 500.67,95.61 501.83,95.30 503.00,94.50 503.68,93.98 504.36,93.14 505.04,92.12 505.72,91.73 506.40,90.70 507.00,89.66 507.60,88.72 508.20,87.91 508.80,87.00 509.40,85.90 510.00,85.00 510.46,84.20 510.91,83.27 511.37,81.96 511.83,80.95 512.29,80.08 512.74,79.29 513.20,78.20 513.95,77.47 514.70,76.34 515.45,75.63 516.20,75.11 516.95,74.31 517.70,73.20 518.71,73.31 519.72,73.46 520.73,73.54 521.74,73.21 522.76,73.16 523.77,73.53 524.78,73.44 525.79,73.68 526.80,73.60 527.80,73.44 528.80,73.49 529.80,73.68 530.80,73.22 531.80,73.38 532.80,73.19 533.80,73.39 534.80,73.47 535.80,73.59 536.80,73.42 537.80,73.02 538.80,73.20" fill="none" stroke="#ff1a1a" stroke-width="1.8" stroke-linejoin="round" />
<polyline points="306.50,125.10 307.60,125.43 308.70,125.86 309.80,126.20 310.35,127.18 310.90,128.12 311.45,129.18 312.00,130.07 312.55,130.53 313.10,131.60 313.25,132.39 313.41,133.86 313.56,134.37 313.72,135.84 313.87,136.33 314.03,137.60 314.18,138.31 314.34,139.31 314.49,140.42 314.65,141.69 314.80,142.50 315.20,141.55 315.60,140.24 316.00,139.06 316.40,138.20 316.59,137.03 316.77,135.83 316.96,134.78 317.15,133.85 317.34,132.76 317.52,131.93 317.71,130.34 317.90,129.50 318.14,130.61 318.39,131.71 318.63,132.54 318.87,133.76 319.11,134.71 319.36,136.25 319.60,137.10 319.96,138.09 320.32,139.00 320.68,140.33 321.04,141.44 321.40,142.50 321.72,141.78 322.05,140.73 322.38,139.47 322.70,138.95 323.02,137.45 323.35,136.92 323.68,135.58 324.00,134.90 324.49,134.13 324.98,132.78 325.47,132.18 325.96,131.22 326.44,130.23 326.93,128.87 327.42,128.07 327.91,126.93 328.40,126.20 329.10,125.53 329.80,124.90 330.50,123.81 331.20,123.00 331.32,124.13 331.45,125.18 331.57,125.91 331.70,127.09 331.82,128.12 331.95,129.40 332.07,130.24 332.20,131.25 332.32,132.40 332.45,133.24 332.57,134.20 332.70,135.50 332.78,134.30 332.87,133.14 332.95,132.49 333.04,131.32 333.12,130.38 333.21,129.31 333.29,127.96 333.38,127.38 333.46,126.35 333.55,124.82 333.63,124.04 333.72,123.21 333.80,122.00 334.10,120.95 334.40,120.22 334.70,119.00 335.85,119.67 337.00,120.10 338.15,119.90 339.30,119.50 340.22,120.44 341.14,121.07 342.06,121.65 342.98,122.03 343.90,123.00 344.67,123.65 345.45,124.48 346.22,125.06 346.99,125.78 347.76,126.32 348.54,127.30 349.31,127.62 350.08,128.54 350.85,129.10 351.63,129.61 352.40,130.50 352.92,131.07 353.44,131.99 353.97,132.94 354.49,133.91 355.01,134.49 355.53,135.37 356.06,136.67 356.58,137.63 357.10,138.16 357.62,139.04 358.14,139.97 358.67,140.52 359.19,141.65 359.71,142.58 360.23,143.60 360.76,144.27 361.28,145.07 361.80,145.90 362.98,145.55 364.15,145.55 365.32,145.01 366.50,144.70 366.91,143.76 367.33,142.98 367.74,141.88 368.16,140.73 368.57,140.11 368.99,139.35 369.40,138.20 369.61,139.22 369.83,140.16 370.04,141.26 370.26,142.84 370.47,143.47 370.69,144.89 370.90,145.90 372.00,145.83 373.10,146.27 374.20,146.69 375.30,146.46 376.40,146.80 377.30,145.96 378.20,145.43 379.10,144.68 380.00,143.96 380.90,143.20 381.95,143.51 383.00,143.67 384.05,144.38 385.10,144.70 385.83,145.27 386.57,146.17 387.30,146.80 387.84,145.83 388.38,144.79 388.91,144.28 389.45,142.94 389.99,142.40 390.53,141.16 391.06,140.26 391.60,139.30 391.82,138.13 392.05,137.04 392.27,136.33 392.49,135.15 392.72,134.20 392.94,132.92 393.16,132.09 393.38,131.15 393.61,130.18 393.83,129.09 394.05,127.91 394.28,127.04 394.50,125.90 394.72,124.97 394.94,123.91 395.17,123.01 395.39,121.83 395.61,120.69 395.83,119.76 396.06,119.26 396.28,118.22 396.50,117.00 397.33,116.48 398.17,115.42 399.00,115.05 399.83,114.31 400.67,113.44 401.50,112.70 402.53,112.82 403.56,112.94 404.58,113.72 405.61,113.95 406.64,114.10 407.67,114.10 408.69,114.51 409.72,114.86 410.75,114.88 411.78,114.86 412.81,115.61 413.83,115.59 414.86,115.97 415.89,116.12 416.92,116.02 417.94,116.50 418.97,116.47 420.00,117.00 421.03,117.02 422.06,117.60 423.10,117.59 424.13,117.68 425.16,117.56 426.19,118.07 427.22,118.18 428.25,118.36 429.29,118.54 430.32,118.85 431.35,118.72 432.38,118.98 433.41,119.09 434.45,119.28 435.48,119.49 436.51,119.36 437.54,119.44 438.57,119.63 439.60,119.75 440.64,120.21 441.67,120.22 442.70,120.50 443.69,120.97 444.68,120.89 445.67,121.18 446.67,121.90 447.66,121.73 448.65,122.19 449.64,122.68 450.63,122.90 451.62,123.02 452.61,123.24 453.60,123.80 454.60,123.90 455.59,124.56 456.58,124.50 457.57,125.19 458.56,124.94 459.55,125.59 460.54,125.69 461.53,126.10 462.53,126.37 463.52,126.89 464.51,126.82 465.50,127.30 466.40,127.91 467.30,127.91 468.20,128.72 469.10,129.28 470.00,129.49 470.90,130.19 471.80,130.34 472.70,130.79 473.60,131.57 474.50,132.06 475.40,132.39 476.30,132.50 477.20,133.37 478.10,133.47 479.00,134.00 479.99,134.62 480.97,134.69 481.96,135.03 482.94,135.45 483.93,136.11 484.91,136.69 485.90,136.80 487.03,136.55 488.17,136.03 489.30,136.11 490.43,135.97 491.57,135.64 492.70,135.20 493.57,134.38 494.44,134.04 495.31,133.80 496.18,133.23 497.05,132.88 497.92,132.30 498.78,131.72 499.65,131.13 500.52,130.42 501.39,129.69 502.26,129.61 503.13,128.90 504.00,128.40 504.71,127.83 505.42,126.61 506.12,126.26 506.83,125.35 507.54,124.71 508.25,123.81 508.95,122.87 509.66,122.13 510.37,121.10 511.08,120.40 511.78,119.81 512.49,118.79 513.20,118.20 513.91,117.27 514.62,116.59 515.34,115.71 516.05,115.04 516.76,113.91 517.48,113.13 518.19,112.20 518.90,111.40 520.02,111.31 521.14,111.00 522.26,110.95 523.38,110.22 524.50,110.20 525.65,110.78 526.80,111.80 527.80,111.68 528.80,111.87 529.80,111.88 530.80,111.62 531.80,111.66 532.80,111.86 533.80,111.66 534.80,112.00 535.80,111.56 536.80,111.97 537.80,111.59 538.80,111.80" fill="none" stroke="#1010ee" stroke-width="1.8" stroke-linejoin="round" />
<line x1="332.30" y1="13.00" x2="332.30" y2="128.00" stroke="#222" stroke-width="1.3" stroke-dasharray="5 3.5"/>
<line x1="369.60" y1="10.00" x2="369.60" y2="165.00" stroke="#222" stroke-width="1.3" stroke-dasharray="5 3.5"/>
<line x1="492.30" y1="10.00" x2="492.30" y2="152.00" stroke="#222" stroke-width="1.3" stroke-dasharray="5 3.5"/>
<rect x="306.5" y="3.5" width="233.0" height="161.7" fill="none" stroke="#000" stroke-width="1.6"/>
<line x1="313.00" y1="165.20" x2="313.00" y2="162.70" stroke="#111" stroke-width="1"/>
<line x1="345.33" y1="165.20" x2="345.33" y2="162.70" stroke="#111" stroke-width="1"/>
<line x1="377.66" y1="165.20" x2="377.66" y2="162.70" stroke="#111" stroke-width="1"/>
<line x1="409.99" y1="165.20" x2="409.99" y2="162.70" stroke="#111" stroke-width="1"/>
<line x1="442.32" y1="165.20" x2="442.32" y2="162.70" stroke="#111" stroke-width="1"/>
<line x1="474.65" y1="165.20" x2="474.65" y2="162.70" stroke="#111" stroke-width="1"/>
<line x1="506.98" y1="165.20" x2="506.98" y2="162.70" stroke="#111" stroke-width="1"/>
<line x1="539.31" y1="165.20" x2="539.31" y2="162.70" stroke="#111" stroke-width="1"/>
<text x="313.0" y="176.2" font-size="8.4" text-anchor="middle" fill="#111" font-weight="bold"  stroke="#111" stroke-width="0.34">500</text>
<text x="345.33" y="176.2" font-size="8.4" text-anchor="middle" fill="#111" font-weight="bold"  stroke="#111" stroke-width="0.34">1000</text>
<text x="377.65999999999997" y="176.2" font-size="8.4" text-anchor="middle" fill="#111" font-weight="bold"  stroke="#111" stroke-width="0.34">1500</text>
<text x="409.99" y="176.2" font-size="8.4" text-anchor="middle" fill="#111" font-weight="bold"  stroke="#111" stroke-width="0.34">2000</text>
<text x="442.32" y="176.2" font-size="8.4" text-anchor="middle" fill="#111" font-weight="bold"  stroke="#111" stroke-width="0.34">2500</text>
<text x="474.65" y="176.2" font-size="8.4" text-anchor="middle" fill="#111" font-weight="bold"  stroke="#111" stroke-width="0.34">3000</text>
<text x="506.98" y="176.2" font-size="8.4" text-anchor="middle" fill="#111" font-weight="bold"  stroke="#111" stroke-width="0.34">3500</text>
<text x="539.31" y="176.2" font-size="8.4" text-anchor="middle" fill="#111" font-weight="bold"  stroke="#111" stroke-width="0.34">4000</text>
<text x="365" y="195.2" font-size="13.5" text-anchor="start" fill="#111" font-weight="bold" textLength="117" lengthAdjust="spacingAndGlyphs"  stroke="#111" stroke-width="0.50">Wavenumber (cm<tspan font-size="8" dy="-5">-1</tspan><tspan dy="5">)</tspan></text>
<text transform="translate(297.5,148.7) rotate(-90)" font-size="14" text-anchor="start" fill="#111" font-weight="bold" textLength="122" lengthAdjust="spacingAndGlyphs"  stroke="#111" stroke-width="0.50">Transmittance (%)</text>
<text x="310.4" y="15.6" font-size="12" text-anchor="start" fill="#111" font-weight="bold" textLength="15.2" lengthAdjust="spacingAndGlyphs"  stroke="#111" stroke-width="0.48">(b)</text>
<text x="428" y="37.4" font-size="12.5" text-anchor="start" fill="#111" font-weight="bold" textLength="38.6" lengthAdjust="spacingAndGlyphs"  stroke="#111" stroke-width="0.50">g-C<tspan font-size="7.8" dy="2.6">3</tspan><tspan dy="-2.6">N</tspan><tspan font-size="7.8" dy="2.6">4</tspan></text>
<text x="433.4" y="103.2" font-size="13" text-anchor="start" fill="#ff1a1a" font-weight="bold" textLength="34" lengthAdjust="spacingAndGlyphs"  stroke="#ff1a1a" stroke-width="0.50">MnO<tspan font-size="8" dy="2.6">2</tspan></text>
<text x="410.5" y="143.4" font-size="13" text-anchor="start" fill="#1010ee" font-weight="bold" textLength="51.5" lengthAdjust="spacingAndGlyphs"  stroke="#1010ee" stroke-width="0.50">Mn<tspan font-size="8" dy="2.6">1</tspan><tspan dy="-2.6">-CN</tspan><tspan font-size="8" dy="2.6">1</tspan></text>
<text transform="translate(343.27,51.3) rotate(-90)" font-size="8.2" text-anchor="start" fill="#111" font-weight="bold" textLength="25.599999999999998" lengthAdjust="spacingAndGlyphs"  stroke="#111" stroke-width="0.33">807.50</text>
<text transform="translate(360.07,69.8) rotate(-90)" font-size="8.2" text-anchor="start" fill="#111" font-weight="bold" textLength="28.299999999999997" lengthAdjust="spacingAndGlyphs"  stroke="#111" stroke-width="0.33">1252.82</text>
<text transform="translate(394.05,72) rotate(-90)" font-size="7.0" text-anchor="start" fill="#111" font-weight="bold" textLength="24" lengthAdjust="spacingAndGlyphs"  stroke="#111" stroke-width="0.28">1623.35</text>
<text transform="translate(502.37,59) rotate(-90)" font-size="8.2" text-anchor="start" fill="#111" font-weight="bold" textLength="31.7" lengthAdjust="spacingAndGlyphs"  stroke="#111" stroke-width="0.33">3151.74</text>
<text x="308.8" y="116.2" font-size="8.8" text-anchor="start" fill="#111" font-weight="bold" textLength="23.5" lengthAdjust="spacingAndGlyphs"  stroke="#111" stroke-width="0.35">530.32</text>
<text transform="translate(389.67,108) rotate(-90)" font-size="8.2" text-anchor="start" fill="#111" font-weight="bold" textLength="30.5" lengthAdjust="spacingAndGlyphs"  stroke="#111" stroke-width="0.33">1631.48</text>
<text transform="translate(502.37,127) rotate(-90)" font-size="8.2" text-anchor="start" fill="#111" font-weight="bold" textLength="26.099999999999994" lengthAdjust="spacingAndGlyphs"  stroke="#111" stroke-width="0.33">3350.2</text>
<text transform="translate(365.07,136) rotate(-90)" font-size="8.2" text-anchor="start" fill="#111" font-weight="bold" textLength="27.299999999999997" lengthAdjust="spacingAndGlyphs"  stroke="#111" stroke-width="0.33">1248.43</text>
<text transform="translate(378.17,142.5) rotate(-90)" font-size="8.2" text-anchor="start" fill="#111" font-weight="bold" textLength="29.5" lengthAdjust="spacingAndGlyphs"  stroke="#111" stroke-width="0.33">1413.52</text>
<text transform="translate(387.37,141.5) rotate(-90)" font-size="8.2" text-anchor="start" fill="#111" font-weight="bold" textLength="30.5" lengthAdjust="spacingAndGlyphs"  stroke="#111" stroke-width="0.33">1633.81</text>
<text transform="translate(318.57,162.2) rotate(-90)" font-size="8.2" text-anchor="start" fill="#111" font-weight="bold" textLength="24.0" lengthAdjust="spacingAndGlyphs"  stroke="#111" stroke-width="0.33">507.29</text>
<text transform="translate(337.89,157.7) rotate(-90)" font-size="7.4" text-anchor="start" fill="#111" font-weight="bold" textLength="20.799999999999983" lengthAdjust="spacingAndGlyphs"  stroke="#111" stroke-width="0.30">807.99</text>
<text transform="translate(503.78999999999996,161.1) rotate(-90)" font-size="7.4" text-anchor="start" fill="#111" font-weight="bold" textLength="23.799999999999983" lengthAdjust="spacingAndGlyphs"  stroke="#111" stroke-width="0.30">3168.66</text>
<rect x="33.8" y="204.7" width="232.39999999999998" height="161.3" fill="none" stroke="#000" stroke-width="1.6"/>
<line x1="33.80" y1="366.00" x2="36.30" y2="366.00" stroke="#111" stroke-width="1"/>
<text x="31.2" y="368.8" font-size="8.4" text-anchor="end" fill="#111" font-weight="bold"  stroke="#111" stroke-width="0.34">0</text>
<line x1="33.80" y1="349.87" x2="36.30" y2="349.87" stroke="#111" stroke-width="1"/>
<text x="31.2" y="352.67" font-size="8.4" text-anchor="end" fill="#111" font-weight="bold"  stroke="#111" stroke-width="0.34">10</text>
<line x1="33.80" y1="333.74" x2="36.30" y2="333.74" stroke="#111" stroke-width="1"/>
<text x="31.2" y="336.54" font-size="8.4" text-anchor="end" fill="#111" font-weight="bold"  stroke="#111" stroke-width="0.34">20</text>
<line x1="33.80" y1="317.61" x2="36.30" y2="317.61" stroke="#111" stroke-width="1"/>
<text x="31.2" y="320.41" font-size="8.4" text-anchor="end" fill="#111" font-weight="bold"  stroke="#111" stroke-width="0.34">30</text>
<line x1="33.80" y1="301.48" x2="36.30" y2="301.48" stroke="#111" stroke-width="1"/>
<text x="31.2" y="304.28000000000003" font-size="8.4" text-anchor="end" fill="#111" font-weight="bold"  stroke="#111" stroke-width="0.34">40</text>
<line x1="33.80" y1="285.35" x2="36.30" y2="285.35" stroke="#111" stroke-width="1"/>
<text x="31.2" y="288.15000000000003" font-size="8.4" text-anchor="end" fill="#111" font-weight="bold"  stroke="#111" stroke-width="0.34">50</text>
<line x1="33.80" y1="269.22" x2="36.30" y2="269.22" stroke="#111" stroke-width="1"/>
<text x="31.2" y="272.02000000000004" font-size="8.4" text-anchor="end" fill="#111" font-weight="bold"  stroke="#111" stroke-width="0.34">60</text>
<line x1="33.80" y1="253.09" x2="36.30" y2="253.09" stroke="#111" stroke-width="1"/>
<text x="31.2" y="255.89000000000001" font-size="8.4" text-anchor="end" fill="#111" font-weight="bold"  stroke="#111" stroke-width="0.34">70</text>
<line x1="33.80" y1="236.96" x2="36.30" y2="236.96" stroke="#111" stroke-width="1"/>
<text x="31.2" y="239.76000000000002" font-size="8.4" text-anchor="end" fill="#111" font-weight="bold"  stroke="#111" stroke-width="0.34">80</text>
<line x1="33.80" y1="220.83" x2="36.30" y2="220.83" stroke="#111" stroke-width="1"/>
<text x="31.2" y="223.63000000000002" font-size="8.4" text-anchor="end" fill="#111" font-weight="bold"  stroke="#111" stroke-width="0.34">90</text>
<line x1="33.80" y1="204.70" x2="36.30" y2="204.70" stroke="#111" stroke-width="1"/>
<text x="31.2" y="207.5" font-size="8.4" text-anchor="end" fill="#111" font-weight="bold"  stroke="#111" stroke-width="0.34">100</text>
<line x1="33.80" y1="357.94" x2="35.30" y2="357.94" stroke="#111" stroke-width="0.8"/>
<line x1="33.80" y1="341.81" x2="35.30" y2="341.81" stroke="#111" stroke-width="0.8"/>
<line x1="33.80" y1="325.68" x2="35.30" y2="325.68" stroke="#111" stroke-width="0.8"/>
<line x1="33.80" y1="309.55" x2="35.30" y2="309.55" stroke="#111" stroke-width="0.8"/>
<line x1="33.80" y1="293.42" x2="35.30" y2="293.42" stroke="#111" stroke-width="0.8"/>
<line x1="33.80" y1="277.28" x2="35.30" y2="277.28" stroke="#111" stroke-width="0.8"/>
<line x1="33.80" y1="261.15" x2="35.30" y2="261.15" stroke="#111" stroke-width="0.8"/>
<line x1="33.80" y1="245.03" x2="35.30" y2="245.03" stroke="#111" stroke-width="0.8"/>
<line x1="33.80" y1="228.90" x2="35.30" y2="228.90" stroke="#111" stroke-width="0.8"/>
<line x1="33.80" y1="212.77" x2="35.30" y2="212.77" stroke="#111" stroke-width="0.8"/>
<line x1="33.30" y1="366.00" x2="33.30" y2="363.50" stroke="#111" stroke-width="1"/>
<text x="33.3" y="376" font-size="8.4" text-anchor="middle" fill="#111" font-weight="bold"  stroke="#111" stroke-width="0.34">0.0</text>
<line x1="55.47" y1="366.00" x2="55.47" y2="363.50" stroke="#111" stroke-width="1"/>
<text x="55.47" y="376" font-size="8.4" text-anchor="middle" fill="#111" font-weight="bold"  stroke="#111" stroke-width="0.34">0.1</text>
<line x1="77.64" y1="366.00" x2="77.64" y2="363.50" stroke="#111" stroke-width="1"/>
<text x="77.64" y="376" font-size="8.4" text-anchor="middle" fill="#111" font-weight="bold"  stroke="#111" stroke-width="0.34">0.2</text>
<line x1="99.81" y1="366.00" x2="99.81" y2="363.50" stroke="#111" stroke-width="1"/>
<text x="99.80999999999999" y="376" font-size="8.4" text-anchor="middle" fill="#111" font-weight="bold"  stroke="#111" stroke-width="0.34">0.3</text>
<line x1="121.98" y1="366.00" x2="121.98" y2="363.50" stroke="#111" stroke-width="1"/>
<text x="121.98" y="376" font-size="8.4" text-anchor="middle" fill="#111" font-weight="bold"  stroke="#111" stroke-width="0.34">0.4</text>
<line x1="144.15" y1="366.00" x2="144.15" y2="363.50" stroke="#111" stroke-width="1"/>
<text x="144.14999999999998" y="376" font-size="8.4" text-anchor="middle" fill="#111" font-weight="bold"  stroke="#111" stroke-width="0.34">0.5</text>
<line x1="166.32" y1="366.00" x2="166.32" y2="363.50" stroke="#111" stroke-width="1"/>
<text x="166.32" y="376" font-size="8.4" text-anchor="middle" fill="#111" font-weight="bold"  stroke="#111" stroke-width="0.34">0.6</text>
<line x1="188.49" y1="366.00" x2="188.49" y2="363.50" stroke="#111" stroke-width="1"/>
<text x="188.48999999999995" y="376" font-size="8.4" text-anchor="middle" fill="#111" font-weight="bold"  stroke="#111" stroke-width="0.34">0.7</text>
<line x1="210.66" y1="366.00" x2="210.66" y2="363.50" stroke="#111" stroke-width="1"/>
<text x="210.66000000000003" y="376" font-size="8.4" text-anchor="middle" fill="#111" font-weight="bold"  stroke="#111" stroke-width="0.34">0.8</text>
<line x1="232.83" y1="366.00" x2="232.83" y2="363.50" stroke="#111" stroke-width="1"/>
<text x="232.82999999999998" y="376" font-size="8.4" text-anchor="middle" fill="#111" font-weight="bold"  stroke="#111" stroke-width="0.34">0.9</text>
<line x1="255.00" y1="366.00" x2="255.00" y2="363.50" stroke="#111" stroke-width="1"/>
<text x="255.0" y="376" font-size="8.4" text-anchor="middle" fill="#111" font-weight="bold"  stroke="#111" stroke-width="0.34">1.0</text>
<line x1="44.38" y1="366.00" x2="44.38" y2="364.50" stroke="#111" stroke-width="0.8"/>
<line x1="66.56" y1="366.00" x2="66.56" y2="364.50" stroke="#111" stroke-width="0.8"/>
<line x1="88.72" y1="366.00" x2="88.72" y2="364.50" stroke="#111" stroke-width="0.8"/>
<line x1="110.89" y1="366.00" x2="110.89" y2="364.50" stroke="#111" stroke-width="0.8"/>
<line x1="133.06" y1="366.00" x2="133.06" y2="364.50" stroke="#111" stroke-width="0.8"/>
<line x1="155.24" y1="366.00" x2="155.24" y2="364.50" stroke="#111" stroke-width="0.8"/>
<line x1="177.40" y1="366.00" x2="177.40" y2="364.50" stroke="#111" stroke-width="0.8"/>
<line x1="199.57" y1="366.00" x2="199.57" y2="364.50" stroke="#111" stroke-width="0.8"/>
<line x1="221.75" y1="366.00" x2="221.75" y2="364.50" stroke="#111" stroke-width="0.8"/>
<line x1="243.92" y1="366.00" x2="243.92" y2="364.50" stroke="#111" stroke-width="0.8"/>
<text x="78.4" y="395.7" font-size="13.7" text-anchor="start" fill="#111" font-weight="bold" textLength="130.6" lengthAdjust="spacingAndGlyphs"  stroke="#111" stroke-width="0.50">Relative pressure (P/P<tspan font-size="9" dy="2">0</tspan><tspan dy="-2">)</tspan></text>
<text transform="translate(19,374.5) rotate(-90)" font-size="12.5" text-anchor="start" fill="#111" font-weight="bold" textLength="178.7" lengthAdjust="spacingAndGlyphs"  stroke="#111" stroke-width="0.50">Quantity Adsorbed(cm<tspan font-size="11" dy="-8">3</tspan><tspan dy="8">/g STP)</tspan></text>
<text x="39.9" y="219.5" font-size="11.5" text-anchor="start" fill="#111" font-weight="bold" textLength="13.1" lengthAdjust="spacingAndGlyphs"  stroke="#111" stroke-width="0.46">(c)</text>
<line x1="60.40" y1="215.60" x2="84.10" y2="215.60" stroke="#555" stroke-width="1"/>
<circle cx="72" cy="215.6" r="1.2" fill="#555"/>
<line x1="60.40" y1="231.70" x2="84.10" y2="231.70" stroke="#f03030" stroke-width="1"/>
<circle cx="72" cy="231.7" r="1.2" fill="#f03030"/>
<line x1="60.40" y1="248.90" x2="84.10" y2="248.90" stroke="#3580e8" stroke-width="1"/>
<circle cx="72" cy="248.9" r="1.2" fill="#3580e8"/>
<text x="85.7" y="220.5" font-size="10.5" text-anchor="start" fill="#111" font-weight="bold" textLength="30.3" lengthAdjust="spacingAndGlyphs"  stroke="#111" stroke-width="0.42">g-C<tspan font-size="6.8" dy="1.5">3</tspan><tspan dy="-1.5">N</tspan><tspan font-size="6.8" dy="1.5">4</tspan></text>
<text x="86.6" y="236.1" font-size="10.5" text-anchor="start" fill="#111" font-weight="bold" textLength="26.6" lengthAdjust="spacingAndGlyphs"  stroke="#111" stroke-width="0.42">MnO<tspan font-size="6.8" dy="1.5">2</tspan></text>
<text x="86.6" y="253.3" font-size="10.5" text-anchor="start" fill="#111" font-weight="bold" textLength="38" lengthAdjust="spacingAndGlyphs"  stroke="#111" stroke-width="0.42">Mn<tspan font-size="6.8" dy="1.5">1</tspan><tspan dy="-1.5">-CN</tspan><tspan font-size="6.8" dy="1.5">1</tspan></text>
<text x="131.6" y="219.5" font-size="10.3" text-anchor="start" fill="#111" font-weight="bold" textLength="64" lengthAdjust="spacingAndGlyphs"  stroke="#111" stroke-width="0.41">( 16.265 m<tspan font-size="6.5" dy="-3.5">2</tspan><tspan dy="3.5">g</tspan><tspan font-size="6.5" dy="-3.5">-1</tspan><tspan dy="3.5"> )</tspan></text>
<text x="125.8" y="236.2" font-size="10.3" text-anchor="start" fill="#111" font-weight="bold" textLength="64.7" lengthAdjust="spacingAndGlyphs"  stroke="#111" stroke-width="0.41">( 23.655 m<tspan font-size="6.5" dy="-3.5">2</tspan><tspan dy="3.5">g</tspan><tspan font-size="6.5" dy="-3.5">-1</tspan><tspan dy="3.5"> )</tspan></text>
<text x="130.9" y="253.2" font-size="10.3" text-anchor="start" fill="#111" font-weight="bold" textLength="64.7" lengthAdjust="spacingAndGlyphs"  stroke="#111" stroke-width="0.41">( 90.994 m<tspan font-size="6.5" dy="-3.5">2</tspan><tspan dy="3.5">g</tspan><tspan font-size="6.5" dy="-3.5">-1</tspan><tspan dy="3.5"> )</tspan></text>
<polyline points="40.80,361.30 80.00,358.80 123.60,356.60 143.30,353.40 167.30,350.70 190.00,348.90 205.30,346.00 215.50,342.70 224.20,338.70 234.40,326.40 245.30,294.40 254.10,257.80" fill="none" stroke="#505050" stroke-width="1.4" stroke-linejoin="round" />
<circle cx="40.8" cy="361.3" r="1.35" fill="#505050"/>
<circle cx="46.0" cy="361.0" r="1.35" fill="#505050"/>
<circle cx="51.3" cy="360.6" r="1.35" fill="#505050"/>
<circle cx="56.5" cy="360.3" r="1.35" fill="#505050"/>
<circle cx="61.8" cy="360.0" r="1.35" fill="#505050"/>
<circle cx="67.0" cy="359.6" r="1.35" fill="#505050"/>
<circle cx="72.3" cy="359.3" r="1.35" fill="#505050"/>
<circle cx="77.5" cy="359.0" r="1.35" fill="#505050"/>
<circle cx="82.8" cy="358.7" r="1.35" fill="#505050"/>
<circle cx="88.0" cy="358.4" r="1.35" fill="#505050"/>
<circle cx="93.3" cy="358.1" r="1.35" fill="#505050"/>
<circle cx="98.5" cy="357.9" r="1.35" fill="#505050"/>
<circle cx="103.8" cy="357.6" r="1.35" fill="#505050"/>
<circle cx="109.1" cy="357.3" r="1.35" fill="#505050"/>
<circle cx="114.3" cy="357.1" r="1.35" fill="#505050"/>
<circle cx="119.6" cy="356.8" r="1.35" fill="#505050"/>
<circle cx="124.8" cy="356.4" r="1.35" fill="#505050"/>
<circle cx="130.1" cy="355.5" r="1.35" fill="#505050"/>
<circle cx="135.3" cy="354.7" r="1.35" fill="#505050"/>
<circle cx="145.1" cy="353.2" r="1.35" fill="#505050"/>
<circle cx="154.8" cy="352.1" r="1.35" fill="#505050"/>
<circle cx="164.6" cy="351.0" r="1.35" fill="#505050"/>
<circle cx="174.3" cy="350.1" r="1.35" fill="#505050"/>
<circle cx="184.0" cy="349.4" r="1.35" fill="#505050"/>
<circle cx="193.7" cy="348.2" r="1.35" fill="#505050"/>
<circle cx="203.3" cy="346.4" r="1.35" fill="#505050"/>
<circle cx="213.1" cy="343.5" r="1.35" fill="#505050"/>
<circle cx="222.8" cy="339.3" r="1.35" fill="#505050"/>
<circle cx="234.4" cy="326.4" r="1.35" fill="#505050"/>
<circle cx="245.3" cy="294.4" r="1.35" fill="#505050"/>
<circle cx="254.1" cy="257.8" r="1.35" fill="#505050"/>
<polyline points="40.80,361.30 80.00,359.20 123.60,357.50 143.30,355.10 167.30,354.00 190.00,352.50 200.90,351.40 211.10,349.60 220.50,347.50 230.70,343.10 240.20,333.60 249.60,290.00 254.10,257.80" fill="none" stroke="#505050" stroke-width="1.4" stroke-linejoin="round" />
<circle cx="40.8" cy="361.3" r="1.35" fill="#505050"/>
<circle cx="46.0" cy="361.0" r="1.35" fill="#505050"/>
<circle cx="51.3" cy="360.7" r="1.35" fill="#505050"/>
<circle cx="56.5" cy="360.5" r="1.35" fill="#505050"/>
<circle cx="61.8" cy="360.2" r="1.35" fill="#505050"/>
<circle cx="67.0" cy="359.9" r="1.35" fill="#505050"/>
<circle cx="72.3" cy="359.6" r="1.35" fill="#505050"/>
<circle cx="77.5" cy="359.3" r="1.35" fill="#505050"/>
<circle cx="82.8" cy="359.1" r="1.35" fill="#505050"/>
<circle cx="88.0" cy="358.9" r="1.35" fill="#505050"/>
<circle cx="93.3" cy="358.7" r="1.35" fill="#505050"/>
<circle cx="98.5" cy="358.5" r="1.35" fill="#505050"/>
<circle cx="103.8" cy="358.3" r="1.35" fill="#505050"/>
<circle cx="109.1" cy="358.1" r="1.35" fill="#505050"/>
<circle cx="114.3" cy="357.9" r="1.35" fill="#505050"/>
<circle cx="119.6" cy="357.7" r="1.35" fill="#505050"/>
<circle cx="124.8" cy="357.3" r="1.35" fill="#505050"/>
<circle cx="130.1" cy="356.7" r="1.35" fill="#505050"/>
<circle cx="135.3" cy="356.1" r="1.35" fill="#505050"/>
<circle cx="145.1" cy="355.0" r="1.35" fill="#505050"/>
<circle cx="154.8" cy="354.6" r="1.35" fill="#505050"/>
<circle cx="164.6" cy="354.1" r="1.35" fill="#505050"/>
<circle cx="174.4" cy="353.5" r="1.35" fill="#505050"/>
<circle cx="184.2" cy="352.9" r="1.35" fill="#505050"/>
<circle cx="193.8" cy="352.1" r="1.35" fill="#505050"/>
<circle cx="203.6" cy="350.9" r="1.35" fill="#505050"/>
<circle cx="213.3" cy="349.1" r="1.35" fill="#505050"/>
<circle cx="223.1" cy="346.4" r="1.35" fill="#505050"/>
<circle cx="240.2" cy="333.6" r="1.35" fill="#505050"/>
<circle cx="249.6" cy="290.0" r="1.35" fill="#505050"/>
<circle cx="254.1" cy="257.8" r="1.35" fill="#505050"/>
<polyline points="37.30,359.50 80.00,355.50 123.60,352.30 143.30,347.90 167.30,344.20 190.00,341.20 205.30,336.80 214.70,333.20 224.20,328.10 234.80,316.90 242.40,295.10 244.60,282.50 254.10,235.00" fill="none" stroke="#f03030" stroke-width="1.4" stroke-linejoin="round" />
<circle cx="37.3" cy="359.5" r="1.35" fill="#f03030"/>
<circle cx="42.5" cy="359.0" r="1.35" fill="#f03030"/>
<circle cx="47.8" cy="358.5" r="1.35" fill="#f03030"/>
<circle cx="53.0" cy="358.0" r="1.35" fill="#f03030"/>
<circle cx="58.3" cy="357.5" r="1.35" fill="#f03030"/>
<circle cx="63.5" cy="357.0" r="1.35" fill="#f03030"/>
<circle cx="68.8" cy="356.6" r="1.35" fill="#f03030"/>
<circle cx="74.0" cy="356.1" r="1.35" fill="#f03030"/>
<circle cx="79.3" cy="355.6" r="1.35" fill="#f03030"/>
<circle cx="84.5" cy="355.2" r="1.35" fill="#f03030"/>
<circle cx="89.8" cy="354.8" r="1.35" fill="#f03030"/>
<circle cx="95.0" cy="354.4" r="1.35" fill="#f03030"/>
<circle cx="100.3" cy="354.0" r="1.35" fill="#f03030"/>
<circle cx="105.6" cy="353.6" r="1.35" fill="#f03030"/>
<circle cx="110.8" cy="353.2" r="1.35" fill="#f03030"/>
<circle cx="116.1" cy="352.9" r="1.35" fill="#f03030"/>
<circle cx="121.3" cy="352.5" r="1.35" fill="#f03030"/>
<circle cx="126.6" cy="351.6" r="1.35" fill="#f03030"/>
<circle cx="132.0" cy="350.4" r="1.35" fill="#f03030"/>
<circle cx="137.4" cy="349.2" r="1.35" fill="#f03030"/>
<circle cx="147.0" cy="347.3" r="1.35" fill="#f03030"/>
<circle cx="156.7" cy="345.8" r="1.35" fill="#f03030"/>
<circle cx="166.3" cy="344.4" r="1.35" fill="#f03030"/>
<circle cx="176.0" cy="343.0" r="1.35" fill="#f03030"/>
<circle cx="185.8" cy="341.8" r="1.35" fill="#f03030"/>
<circle cx="195.6" cy="339.6" r="1.35" fill="#f03030"/>
<circle cx="205.3" cy="336.8" r="1.35" fill="#f03030"/>
<circle cx="214.9" cy="333.1" r="1.35" fill="#f03030"/>
<circle cx="234.8" cy="316.9" r="1.35" fill="#f03030"/>
<circle cx="242.4" cy="295.1" r="1.35" fill="#f03030"/>
<circle cx="244.6" cy="282.5" r="1.35" fill="#f03030"/>
<circle cx="254.1" cy="235.0" r="1.35" fill="#f03030"/>
<polyline points="37.30,359.50 80.00,356.00 123.60,353.00 143.30,350.10 167.30,346.80 190.00,345.30 200.90,343.50 211.10,340.60 221.30,337.30 230.70,332.20 240.20,322.30 247.50,298.70 249.50,279.20 254.10,235.00" fill="none" stroke="#f03030" stroke-width="1.4" stroke-linejoin="round" />
<circle cx="37.3" cy="359.5" r="1.35" fill="#f03030"/>
<circle cx="42.5" cy="359.1" r="1.35" fill="#f03030"/>
<circle cx="47.8" cy="358.6" r="1.35" fill="#f03030"/>
<circle cx="53.0" cy="358.2" r="1.35" fill="#f03030"/>
<circle cx="58.3" cy="357.8" r="1.35" fill="#f03030"/>
<circle cx="63.5" cy="357.4" r="1.35" fill="#f03030"/>
<circle cx="68.8" cy="356.9" r="1.35" fill="#f03030"/>
<circle cx="74.0" cy="356.5" r="1.35" fill="#f03030"/>
<circle cx="79.3" cy="356.1" r="1.35" fill="#f03030"/>
<circle cx="84.5" cy="355.7" r="1.35" fill="#f03030"/>
<circle cx="89.8" cy="355.3" r="1.35" fill="#f03030"/>
<circle cx="95.0" cy="355.0" r="1.35" fill="#f03030"/>
<circle cx="100.3" cy="354.6" r="1.35" fill="#f03030"/>
<circle cx="105.6" cy="354.2" r="1.35" fill="#f03030"/>
<circle cx="110.8" cy="353.9" r="1.35" fill="#f03030"/>
<circle cx="116.1" cy="353.5" r="1.35" fill="#f03030"/>
<circle cx="121.3" cy="353.2" r="1.35" fill="#f03030"/>
<circle cx="126.6" cy="352.6" r="1.35" fill="#f03030"/>
<circle cx="131.8" cy="351.8" r="1.35" fill="#f03030"/>
<circle cx="137.1" cy="351.0" r="1.35" fill="#f03030"/>
<circle cx="146.8" cy="349.6" r="1.35" fill="#f03030"/>
<circle cx="156.6" cy="348.3" r="1.35" fill="#f03030"/>
<circle cx="166.3" cy="346.9" r="1.35" fill="#f03030"/>
<circle cx="176.1" cy="346.2" r="1.35" fill="#f03030"/>
<circle cx="186.0" cy="345.6" r="1.35" fill="#f03030"/>
<circle cx="195.7" cy="344.4" r="1.35" fill="#f03030"/>
<circle cx="205.5" cy="342.2" r="1.35" fill="#f03030"/>
<circle cx="215.2" cy="339.3" r="1.35" fill="#f03030"/>
<circle cx="224.9" cy="335.4" r="1.35" fill="#f03030"/>
<circle cx="240.2" cy="322.3" r="1.35" fill="#f03030"/>
<circle cx="247.5" cy="298.7" r="1.35" fill="#f03030"/>
<circle cx="249.5" cy="279.2" r="1.35" fill="#f03030"/>
<circle cx="254.1" cy="235.0" r="1.35" fill="#f03030"/>
<polyline points="44.30,331.40 54.70,327.70 65.10,324.50 80.00,319.90 104.50,314.20 124.20,309.00 145.50,303.50 160.00,298.60 174.50,295.00 194.90,287.70 213.80,278.30 224.70,272.50 234.90,264.50 240.00,257.20 245.40,248.70 251.20,238.00 254.50,227.20 255.60,211.60" fill="none" stroke="#3580e8" stroke-width="1.4" stroke-linejoin="round" />
<path d="M44.3,329.4 L42.4,332.8 L46.2,332.8Z" fill="#3580e8"/>
<path d="M54.0,326.0 L52.1,329.4 L55.9,329.4Z" fill="#3580e8"/>
<path d="M63.6,322.9 L61.7,326.3 L65.5,326.3Z" fill="#3580e8"/>
<path d="M73.3,320.0 L71.4,323.4 L75.2,323.4Z" fill="#3580e8"/>
<path d="M82.9,317.2 L81.0,320.6 L84.8,320.6Z" fill="#3580e8"/>
<path d="M92.7,314.9 L90.8,318.3 L94.6,318.3Z" fill="#3580e8"/>
<path d="M102.5,312.7 L100.6,316.1 L104.4,316.1Z" fill="#3580e8"/>
<path d="M112.3,310.1 L110.4,313.5 L114.2,313.5Z" fill="#3580e8"/>
<path d="M122.0,307.6 L120.1,311.0 L123.9,311.0Z" fill="#3580e8"/>
<path d="M131.8,305.0 L129.9,308.4 L133.7,308.4Z" fill="#3580e8"/>
<path d="M141.6,302.5 L139.7,305.9 L143.5,305.9Z" fill="#3580e8"/>
<path d="M151.2,299.6 L149.3,303.0 L153.1,303.0Z" fill="#3580e8"/>
<path d="M161.0,296.4 L159.1,299.8 L162.9,299.8Z" fill="#3580e8"/>
<path d="M170.8,293.9 L168.9,297.3 L172.7,297.3Z" fill="#3580e8"/>
<path d="M180.4,290.9 L178.5,294.3 L182.3,294.3Z" fill="#3580e8"/>
<path d="M190.2,287.4 L188.3,290.8 L192.1,290.8Z" fill="#3580e8"/>
<path d="M199.8,283.2 L197.9,286.6 L201.8,286.6Z" fill="#3580e8"/>
<path d="M209.5,278.4 L207.6,281.8 L211.4,281.8Z" fill="#3580e8"/>
<path d="M219.1,273.5 L217.2,276.9 L221.0,276.9Z" fill="#3580e8"/>
<path d="M234.9,262.5 L233.0,265.9 L236.8,265.9Z" fill="#3580e8"/>
<path d="M240.0,255.2 L238.1,258.6 L241.9,258.6Z" fill="#3580e8"/>
<path d="M245.4,246.7 L243.5,250.1 L247.3,250.1Z" fill="#3580e8"/>
<path d="M251.2,236.0 L249.3,239.4 L253.1,239.4Z" fill="#3580e8"/>
<path d="M254.5,225.2 L252.6,228.6 L256.4,228.6Z" fill="#3580e8"/>
<path d="M255.6,209.6 L253.7,213.0 L257.5,213.0Z" fill="#3580e8"/>
<polyline points="33.90,336.80 38.50,336.40 47.70,334.10 58.20,330.60 69.70,327.50 80.00,324.80 104.50,318.80 124.20,313.90 145.50,308.00 160.00,303.70 181.80,296.50 200.70,288.70 221.80,278.30 231.30,272.50 240.00,263.70 245.00,254.00 249.50,244.60 252.80,235.50 254.50,227.20 255.60,211.60" fill="none" stroke="#3580e8" stroke-width="1.4" stroke-linejoin="round" />
<path d="M33.9,334.8 L32.0,338.2 L35.8,338.2Z" fill="#3580e8"/>
<path d="M43.7,333.1 L41.8,336.5 L45.6,336.5Z" fill="#3580e8"/>
<path d="M53.4,330.2 L51.5,333.6 L55.3,333.6Z" fill="#3580e8"/>
<path d="M63.1,327.3 L61.2,330.7 L65.0,330.7Z" fill="#3580e8"/>
<path d="M72.9,324.7 L71.0,328.1 L74.8,328.1Z" fill="#3580e8"/>
<path d="M82.7,322.1 L80.8,325.5 L84.6,325.5Z" fill="#3580e8"/>
<path d="M92.5,319.7 L90.6,323.1 L94.4,323.1Z" fill="#3580e8"/>
<path d="M102.3,317.3 L100.4,320.7 L104.2,320.7Z" fill="#3580e8"/>
<path d="M112.0,314.9 L110.1,318.3 L113.9,318.3Z" fill="#3580e8"/>
<path d="M121.8,312.5 L119.9,315.9 L123.7,315.9Z" fill="#3580e8"/>
<path d="M131.5,309.9 L129.6,313.3 L133.4,313.3Z" fill="#3580e8"/>
<path d="M141.1,307.2 L139.2,310.6 L143.0,310.6Z" fill="#3580e8"/>
<path d="M150.8,304.4 L148.9,307.8 L152.7,307.8Z" fill="#3580e8"/>
<path d="M160.5,301.5 L158.6,304.9 L162.4,304.9Z" fill="#3580e8"/>
<path d="M170.3,298.3 L168.4,301.7 L172.2,301.7Z" fill="#3580e8"/>
<path d="M180.1,295.1 L178.2,298.5 L182.0,298.5Z" fill="#3580e8"/>
<path d="M189.7,291.2 L187.8,294.6 L191.6,294.6Z" fill="#3580e8"/>
<path d="M199.5,287.2 L197.6,290.6 L201.4,290.6Z" fill="#3580e8"/>
<path d="M209.2,282.5 L207.3,285.9 L211.1,285.9Z" fill="#3580e8"/>
<path d="M218.9,277.7 L217.0,281.1 L220.8,281.1Z" fill="#3580e8"/>
<path d="M228.5,272.2 L226.6,275.6 L230.4,275.6Z" fill="#3580e8"/>
<path d="M240.0,261.7 L238.1,265.1 L241.9,265.1Z" fill="#3580e8"/>
<path d="M245.0,252.0 L243.1,255.4 L246.9,255.4Z" fill="#3580e8"/>
<path d="M249.5,242.6 L247.6,246.0 L251.4,246.0Z" fill="#3580e8"/>
<path d="M252.8,233.5 L250.9,236.9 L254.7,236.9Z" fill="#3580e8"/>
<path d="M254.5,225.2 L252.6,228.6 L256.4,228.6Z" fill="#3580e8"/>
<path d="M255.6,209.6 L253.7,213.0 L257.5,213.0Z" fill="#3580e8"/>
<rect x="307.9" y="205.8" width="233.10000000000002" height="161.8" fill="none" stroke="#000" stroke-width="1.6"/>
<line x1="307.90" y1="367.60" x2="310.40" y2="367.60" stroke="#111" stroke-width="1"/>
<text x="305.5" y="369.5" font-size="5.8" text-anchor="end" fill="#111" font-weight="bold" textLength="17.7" lengthAdjust="spacingAndGlyphs"  stroke="#111" stroke-width="0.23">0.0000</text>
<line x1="307.90" y1="335.25" x2="310.40" y2="335.25" stroke="#111" stroke-width="1"/>
<text x="305.5" y="337.15" font-size="5.8" text-anchor="end" fill="#111" font-weight="bold" textLength="17.7" lengthAdjust="spacingAndGlyphs"  stroke="#111" stroke-width="0.23">0.0005</text>
<line x1="307.90" y1="302.90" x2="310.40" y2="302.90" stroke="#111" stroke-width="1"/>
<text x="305.5" y="304.8" font-size="5.8" text-anchor="end" fill="#111" font-weight="bold" textLength="17.7" lengthAdjust="spacingAndGlyphs"  stroke="#111" stroke-width="0.23">0.0010</text>
<line x1="307.90" y1="270.55" x2="310.40" y2="270.55" stroke="#111" stroke-width="1"/>
<text x="305.5" y="272.45" font-size="5.8" text-anchor="end" fill="#111" font-weight="bold" textLength="17.7" lengthAdjust="spacingAndGlyphs"  stroke="#111" stroke-width="0.23">0.0015</text>
<line x1="307.90" y1="238.20" x2="310.40" y2="238.20" stroke="#111" stroke-width="1"/>
<text x="305.5" y="240.10000000000002" font-size="5.8" text-anchor="end" fill="#111" font-weight="bold" textLength="17.7" lengthAdjust="spacingAndGlyphs"  stroke="#111" stroke-width="0.23">0.0020</text>
<line x1="307.90" y1="205.85" x2="310.40" y2="205.85" stroke="#111" stroke-width="1"/>
<text x="305.5" y="207.75000000000003" font-size="5.8" text-anchor="end" fill="#111" font-weight="bold" textLength="17.7" lengthAdjust="spacingAndGlyphs"  stroke="#111" stroke-width="0.23">0.0025</text>
<line x1="307.90" y1="351.43" x2="309.40" y2="351.43" stroke="#111" stroke-width="0.8"/>
<line x1="307.90" y1="319.08" x2="309.40" y2="319.08" stroke="#111" stroke-width="0.8"/>
<line x1="307.90" y1="286.73" x2="309.40" y2="286.73" stroke="#111" stroke-width="0.8"/>
<line x1="307.90" y1="254.38" x2="309.40" y2="254.38" stroke="#111" stroke-width="0.8"/>
<line x1="307.90" y1="222.03" x2="309.40" y2="222.03" stroke="#111" stroke-width="0.8"/>
<line x1="308.00" y1="367.60" x2="308.00" y2="365.10" stroke="#111" stroke-width="1"/>
<text x="308.0" y="377.4" font-size="8.4" text-anchor="middle" fill="#111" font-weight="bold"  stroke="#111" stroke-width="0.34">0</text>
<line x1="366.00" y1="367.60" x2="366.00" y2="365.10" stroke="#111" stroke-width="1"/>
<text x="366.0" y="377.4" font-size="8.4" text-anchor="middle" fill="#111" font-weight="bold"  stroke="#111" stroke-width="0.34">10</text>
<line x1="424.00" y1="367.60" x2="424.00" y2="365.10" stroke="#111" stroke-width="1"/>
<text x="424.0" y="377.4" font-size="8.4" text-anchor="middle" fill="#111" font-weight="bold"  stroke="#111" stroke-width="0.34">20</text>
<line x1="482.00" y1="367.60" x2="482.00" y2="365.10" stroke="#111" stroke-width="1"/>
<text x="482.0" y="377.4" font-size="8.4" text-anchor="middle" fill="#111" font-weight="bold"  stroke="#111" stroke-width="0.34">30</text>
<line x1="540.00" y1="367.60" x2="540.00" y2="365.10" stroke="#111" stroke-width="1"/>
<text x="540.0" y="377.4" font-size="8.4" text-anchor="middle" fill="#111" font-weight="bold"  stroke="#111" stroke-width="0.34">40</text>
<line x1="337.00" y1="367.60" x2="337.00" y2="366.10" stroke="#111" stroke-width="0.8"/>
<line x1="395.00" y1="367.60" x2="395.00" y2="366.10" stroke="#111" stroke-width="0.8"/>
<line x1="453.00" y1="367.60" x2="453.00" y2="366.10" stroke="#111" stroke-width="0.8"/>
<line x1="511.00" y1="367.60" x2="511.00" y2="366.10" stroke="#111" stroke-width="0.8"/>
<text x="377.5" y="396.5" font-size="13.7" text-anchor="start" fill="#111" font-weight="bold" textLength="95" lengthAdjust="spacingAndGlyphs"  stroke="#111" stroke-width="0.50">Pore Width (nm)</text>
<text transform="translate(283.0,372.0) rotate(-90)" font-size="12" text-anchor="start" fill="#111" font-weight="bold" textLength="170.8" lengthAdjust="spacingAndGlyphs"  stroke="#111" stroke-width="0.48">dV/dw Pore Volume (cm<tspan font-size="8" dy="-4">3</tspan><tspan dy="4">g</tspan><tspan font-size="7" dy="-4">-1</tspan><tspan dy="4">nm</tspan><tspan font-size="7" dy="-4">-1</tspan><tspan dy="4">)</tspan></text>
<text x="327.3" y="220" font-size="11.5" text-anchor="start" fill="#111" font-weight="bold" textLength="16.1" lengthAdjust="spacingAndGlyphs"  stroke="#111" stroke-width="0.46">(d)</text>
<polyline points="318.60,342.40 319.40,323.80 321.10,302.80 322.30,292.90 324.30,295.30 326.00,309.00 329.80,331.20 334.70,346.10 339.70,347.30 347.10,343.60 362.00,336.20 374.30,328.80 385.00,323.80 396.50,318.10 432.50,305.50 504.50,306.40 540.50,310.90" fill="none" stroke="#505050" stroke-width="1.0" stroke-linejoin="round" />
<circle cx="318.6" cy="342.4" r="0.9" fill="#505050"/>
<circle cx="319.4" cy="323.8" r="0.9" fill="#505050"/>
<circle cx="321.1" cy="302.8" r="0.9" fill="#505050"/>
<circle cx="322.3" cy="292.9" r="0.9" fill="#505050"/>
<circle cx="324.3" cy="295.3" r="0.9" fill="#505050"/>
<circle cx="326" cy="309" r="0.9" fill="#505050"/>
<circle cx="329.8" cy="331.2" r="0.9" fill="#505050"/>
<circle cx="334.7" cy="346.1" r="0.9" fill="#505050"/>
<circle cx="339.7" cy="347.3" r="0.9" fill="#505050"/>
<circle cx="347.1" cy="343.6" r="0.9" fill="#505050"/>
<circle cx="362" cy="336.2" r="0.9" fill="#505050"/>
<circle cx="374.3" cy="328.8" r="0.9" fill="#505050"/>
<circle cx="385" cy="323.8" r="0.9" fill="#505050"/>
<circle cx="396.5" cy="318.1" r="0.9" fill="#505050"/>
<circle cx="432.5" cy="305.5" r="0.9" fill="#505050"/>
<circle cx="504.5" cy="306.4" r="0.9" fill="#505050"/>
<circle cx="540.5" cy="310.9" r="0.9" fill="#505050"/>
<polyline points="312.90,308.50 314.90,291.60 318.60,269.40 321.80,255.70 324.80,269.40 326.00,285.40 329.80,292.90 337.20,305.20 347.10,318.90 359.50,330.00 371.80,336.20 385.00,340.00 398.00,342.10 434.00,345.10 481.80,347.30 540.50,348.40" fill="none" stroke="#f03030" stroke-width="2.0" stroke-linejoin="round" />
<polyline points="316.10,268.10 318.60,250.80 320.30,243.40 322.30,227.30 323.60,222.30 324.80,211.90 327.30,242.10 329.80,264.40 332.20,273.80 337.20,276.80 342.10,278.80 347.10,284.70 354.50,286.20 366.90,290.40 385.00,292.90 398.00,294.10 434.00,294.10 509.00,297.40 540.50,302.50" fill="none" stroke="#3580e8" stroke-width="2.0" stroke-linejoin="round" />
<line x1="462.40" y1="217.30" x2="486.10" y2="217.30" stroke="#505050" stroke-width="1"/>
<line x1="462.40" y1="232.80" x2="486.10" y2="232.80" stroke="#f03030" stroke-width="1.5"/>
<line x1="462.40" y1="248.40" x2="486.10" y2="248.40" stroke="#3580e8" stroke-width="1.5"/>
<text x="490.8" y="222" font-size="10.3" text-anchor="start" fill="#111" font-weight="bold" textLength="30" lengthAdjust="spacingAndGlyphs"  stroke="#111" stroke-width="0.41">g-C<tspan font-size="6.8" dy="1.5">3</tspan><tspan dy="-1.5">N</tspan><tspan font-size="6.8" dy="1.5">4</tspan></text>
<text x="490.8" y="236.6" font-size="10.3" text-anchor="start" fill="#111" font-weight="bold" textLength="26" lengthAdjust="spacingAndGlyphs"  stroke="#111" stroke-width="0.41">MnO<tspan font-size="6.8" dy="1.5">2</tspan></text>
<text x="490.8" y="251.6" font-size="10.3" text-anchor="start" fill="#111" font-weight="bold" textLength="40" lengthAdjust="spacingAndGlyphs"  stroke="#111" stroke-width="0.41">Mn<tspan font-size="6.8" dy="1.5">1</tspan><tspan dy="-1.5">-CN</tspan><tspan font-size="6.8" dy="1.5">1</tspan></text>
<rect x="33.1" y="408.1" width="232.70000000000002" height="161.5" fill="none" stroke="#000" stroke-width="1.6"/>
<line x1="33.10" y1="562.40" x2="35.60" y2="562.40" stroke="#111" stroke-width="1"/>
<text x="30.7" y="565.1999999999999" font-size="8.4" text-anchor="end" fill="#111" font-weight="bold"  stroke="#111" stroke-width="0.34">0.0</text>
<line x1="33.10" y1="523.80" x2="35.60" y2="523.80" stroke="#111" stroke-width="1"/>
<text x="30.7" y="526.5999999999999" font-size="8.4" text-anchor="end" fill="#111" font-weight="bold"  stroke="#111" stroke-width="0.34">0.5</text>
<line x1="33.10" y1="485.20" x2="35.60" y2="485.20" stroke="#111" stroke-width="1"/>
<text x="30.7" y="488.0" font-size="8.4" text-anchor="end" fill="#111" font-weight="bold"  stroke="#111" stroke-width="0.34">1.0</text>
<line x1="33.10" y1="446.60" x2="35.60" y2="446.60" stroke="#111" stroke-width="1"/>
<text x="30.7" y="449.4" font-size="8.4" text-anchor="end" fill="#111" font-weight="bold"  stroke="#111" stroke-width="0.34">1.5</text>
<line x1="33.10" y1="408.00" x2="35.60" y2="408.00" stroke="#111" stroke-width="1"/>
<text x="30.7" y="410.8" font-size="8.4" text-anchor="end" fill="#111" font-weight="bold"  stroke="#111" stroke-width="0.34">2.0</text>
<line x1="33.10" y1="569.60" x2="33.10" y2="567.10" stroke="#111" stroke-width="1"/>
<text x="33.1" y="581.2" font-size="8.4" text-anchor="middle" fill="#111" font-weight="bold"  stroke="#111" stroke-width="0.34">200</text>
<line x1="71.90" y1="569.60" x2="71.90" y2="567.10" stroke="#111" stroke-width="1"/>
<text x="71.9" y="581.2" font-size="8.4" text-anchor="middle" fill="#111" font-weight="bold"  stroke="#111" stroke-width="0.34">300</text>
<line x1="110.70" y1="569.60" x2="110.70" y2="567.10" stroke="#111" stroke-width="1"/>
<text x="110.69999999999999" y="581.2" font-size="8.4" text-anchor="middle" fill="#111" font-weight="bold"  stroke="#111" stroke-width="0.34">400</text>
<line x1="149.50" y1="569.60" x2="149.50" y2="567.10" stroke="#111" stroke-width="1"/>
<text x="149.5" y="581.2" font-size="8.4" text-anchor="middle" fill="#111" font-weight="bold"  stroke="#111" stroke-width="0.34">500</text>
<line x1="188.30" y1="569.60" x2="188.30" y2="567.10" stroke="#111" stroke-width="1"/>
<text x="188.29999999999998" y="581.2" font-size="8.4" text-anchor="middle" fill="#111" font-weight="bold"  stroke="#111" stroke-width="0.34">600</text>
<line x1="227.10" y1="569.60" x2="227.10" y2="567.10" stroke="#111" stroke-width="1"/>
<text x="227.1" y="581.2" font-size="8.4" text-anchor="middle" fill="#111" font-weight="bold"  stroke="#111" stroke-width="0.34">700</text>
<line x1="265.90" y1="569.60" x2="265.90" y2="567.10" stroke="#111" stroke-width="1"/>
<text x="265.90000000000003" y="581.2" font-size="8.4" text-anchor="middle" fill="#111" font-weight="bold"  stroke="#111" stroke-width="0.34">800</text>
<text x="99.3" y="600" font-size="14.5" text-anchor="start" fill="#111" font-weight="bold" textLength="101.8" lengthAdjust="spacingAndGlyphs"  stroke="#111" stroke-width="0.50">Wavelength(nm)</text>
<text transform="translate(15.8,536.1) rotate(-90)" font-size="11.6" text-anchor="start" fill="#111" font-weight="bold" textLength="97.8" lengthAdjust="spacingAndGlyphs"  stroke="#111" stroke-width="0.46">Absorbance(a.u)</text>
<text x="40" y="420.4" font-size="11.2" text-anchor="start" fill="#111" font-weight="bold" textLength="14.3" lengthAdjust="spacingAndGlyphs"  stroke="#111" stroke-width="0.45">(e)</text>
<polyline points="33.20,549.00 33.78,548.13 34.35,547.17 34.92,546.27 35.50,545.00 36.37,544.44 37.23,543.11 38.10,542.60 39.20,542.52 40.30,542.49 41.40,542.22 42.50,541.85 43.60,541.70 44.40,541.12 45.20,540.10 46.00,539.50 46.60,538.86 47.20,537.80 47.80,537.32 48.40,535.94 49.00,535.40 49.58,534.47 50.17,533.21 50.75,532.61 51.33,531.75 51.92,530.48 52.50,529.50 53.04,528.86 53.59,527.65 54.13,526.69 54.67,526.31 55.21,525.23 55.76,524.19 56.30,523.60 57.04,522.98 57.78,522.40 58.52,521.19 59.26,520.79 60.00,520.00 60.90,519.43 61.80,518.78 62.70,518.32 63.60,518.10 64.60,518.03 65.60,518.38 66.60,518.58 67.60,518.92 68.60,519.17 69.60,519.51 70.60,519.71 71.60,519.50 72.60,519.90 73.61,519.68 74.62,519.53 75.63,518.85 76.64,518.76 77.66,518.69 78.67,518.18 79.68,517.92 80.69,517.39 81.70,517.20 82.76,517.57 83.82,517.55 84.88,517.32 85.93,517.38 86.99,517.28 88.05,517.64 89.11,517.95 90.17,517.97 91.23,517.66 92.28,517.80 93.34,517.82 94.40,518.10 95.32,518.56 96.23,519.12 97.15,519.70 98.07,520.53 98.98,521.35 99.90,521.70 100.41,522.83 100.93,523.60 101.44,524.33 101.96,525.60 102.47,526.10 102.99,526.91 103.50,528.10 104.22,528.63 104.94,529.67 105.67,530.32 106.39,530.79 107.11,531.43 107.83,532.38 108.56,533.01 109.28,533.88 110.00,534.40 110.88,534.99 111.76,535.39 112.64,536.00 113.52,536.72 114.40,537.50 115.01,538.41 115.63,539.43 116.24,540.23 116.86,540.81 117.47,542.27 118.09,542.87 118.70,543.80 119.25,544.72 119.80,545.42 120.35,546.35 120.90,547.23 121.45,548.36 122.00,549.45 122.55,549.96 123.10,551.00 123.74,551.69 124.39,552.43 125.03,553.05 125.68,553.82 126.32,555.06 126.97,555.95 127.61,556.17 128.26,556.97 128.90,558.00 129.92,558.35 130.94,558.64 131.96,558.99 132.98,559.74 134.00,559.72 135.02,560.10 136.04,560.90 137.06,561.11 138.08,561.53 139.10,561.80 140.13,561.94 141.16,561.59 142.20,562.19 143.23,561.66 144.26,561.82 145.29,562.00 146.32,562.25 147.36,562.36 148.39,561.83 149.42,561.94 150.45,561.90 151.49,562.01 152.52,562.51 153.55,562.05 154.58,562.36 155.61,562.19 156.65,562.11 157.68,562.31 158.71,562.33 159.74,562.54 160.78,562.77 161.81,562.60 162.84,562.64 163.87,562.52 164.90,562.50 165.94,562.72 166.97,562.70 168.00,562.80 169.01,563.04 170.01,562.62 171.02,562.52 172.02,562.53 173.03,562.69 174.04,562.63 175.04,562.74 176.05,563.03 177.06,562.94 178.06,562.86 179.07,563.00 180.07,563.03 181.08,562.54 182.09,562.91 183.09,562.58 184.10,562.75 185.11,562.73 186.11,562.66 187.12,562.53 188.12,562.62 189.13,562.92 190.14,563.07 191.14,563.05 192.15,562.51 193.15,562.84 194.16,562.61 195.17,562.81 196.17,562.82 197.18,562.60 198.19,562.55 199.19,562.79 200.20,562.53 201.20,563.00 202.21,563.03 203.22,562.51 204.22,562.98 205.23,563.00 206.24,562.52 207.24,562.85 208.25,562.78 209.25,562.61 210.26,562.99 211.27,562.84 212.27,562.99 213.28,563.06 214.28,563.08 215.29,562.90 216.30,563.02 217.30,562.54 218.31,562.70 219.32,562.78 220.32,562.81 221.33,562.72 222.33,562.99 223.34,562.85 224.35,563.01 225.35,562.77 226.36,563.07 227.36,562.71 228.37,563.10 229.38,562.84 230.38,562.73 231.39,562.87 232.40,562.56 233.40,562.91 234.41,562.86 235.41,562.98 236.42,562.55 237.43,562.75 238.43,562.85 239.44,562.54 240.45,562.96 241.45,563.04 242.46,562.88 243.46,562.96 244.47,563.07 245.48,562.77 246.48,562.81 247.49,563.03 248.49,562.91 249.50,562.67 250.51,562.85 251.51,562.96 252.52,563.01 253.53,562.58 254.53,562.60 255.54,562.91 256.54,562.93 257.55,562.94 258.56,562.79 259.56,562.73 260.57,563.08 261.58,562.65 262.58,562.67 263.59,562.51 264.59,562.55 265.60,562.80" fill="none" stroke="#505050" stroke-width="2.0" stroke-linejoin="round" />
<polyline points="33.20,534.40 33.96,533.70 34.72,532.94 35.48,531.89 36.24,531.42 37.00,530.50 37.96,529.64 38.92,529.10 39.88,528.60 40.84,528.03 41.80,527.20 42.54,526.33 43.28,525.71 44.02,524.66 44.76,523.94 45.50,523.00 46.08,522.38 46.67,521.40 47.25,520.59 47.83,519.99 48.42,518.64 49.00,518.10 49.50,516.92 50.00,516.05 50.50,515.32 51.00,514.57 51.50,513.73 52.00,512.88 52.50,511.60 53.00,511.00 53.41,510.30 53.83,508.99 54.24,508.51 54.65,507.21 55.06,506.58 55.47,505.58 55.89,504.24 56.30,503.60 56.97,502.58 57.65,501.49 58.33,500.82 59.00,499.50 59.90,498.57 60.80,497.90 61.70,497.20 62.78,496.45 63.85,495.80 64.92,495.57 66.00,495.00 67.10,494.77 68.20,494.20 69.30,494.30 70.40,493.63 71.50,493.76 72.60,493.20 73.05,494.30 73.50,495.48 73.95,496.16 74.40,497.20 75.50,497.78 76.60,498.02 77.70,498.47 78.80,498.67 79.90,499.10 80.35,500.01 80.80,500.76 81.25,501.70 81.70,502.96 82.15,503.35 82.60,504.50 83.63,504.64 84.65,504.53 85.68,504.12 86.71,504.22 87.73,504.40 88.76,504.15 89.79,504.08 90.81,504.02 91.84,503.76 92.87,504.19 93.89,503.99 94.92,503.65 95.95,503.63 96.97,503.78 98.00,503.60 98.93,504.72 99.87,505.43 100.80,506.30 101.82,506.17 102.84,506.22 103.87,506.33 104.89,506.53 105.91,506.42 106.93,506.14 107.96,506.01 108.98,506.39 110.00,506.30 111.00,506.07 112.01,506.35 113.01,505.83 114.01,506.24 115.02,506.03 116.02,505.61 117.02,505.38 118.03,505.78 119.03,505.26 120.03,505.19 121.04,505.24 122.04,505.03 123.04,504.89 124.05,505.07 125.05,505.05 126.06,505.04 127.06,504.51 128.06,504.42 129.07,504.58 130.07,504.65 131.07,504.24 132.08,504.38 133.08,504.00 134.08,504.39 135.09,504.28 136.09,504.23 137.09,503.81 138.10,503.54 139.10,503.70 140.11,503.79 141.12,503.46 142.12,503.31 143.13,503.26 144.14,503.33 145.15,503.24 146.15,502.96 147.16,502.76 148.17,502.59 149.18,502.43 150.18,502.88 151.19,502.78 152.20,502.14 153.21,502.36 154.22,502.48 155.22,502.15 156.23,502.28 157.24,501.69 158.25,501.93 159.25,501.90 160.26,501.37 161.27,501.32 162.28,501.67 163.28,501.14 164.29,501.27 165.30,501.10 166.34,501.49 167.37,501.51 168.41,501.69 169.44,501.55 170.48,502.02 171.51,501.74 172.55,502.04 173.59,502.24 174.62,502.51 175.66,502.25 176.69,502.42 177.73,502.74 178.76,502.75 179.80,503.10 180.89,503.10 181.98,502.57 183.06,502.40 184.15,502.06 185.24,502.07 186.32,501.86 187.41,501.59 188.50,501.10 189.51,500.94 190.53,501.34 191.54,501.53 192.55,501.70 193.57,501.57 194.58,501.60 195.59,501.51 196.60,501.50 197.62,501.60 198.63,501.84 199.64,502.19 200.66,502.08 201.67,502.26 202.68,502.18 203.70,502.69 204.71,502.74 205.72,502.44 206.73,502.60 207.75,502.52 208.76,502.78 209.77,502.77 210.79,503.15 211.80,503.10 212.80,503.11 213.79,503.46 214.79,503.19 215.79,503.73 216.79,503.81 217.78,503.73 218.78,504.14 219.78,504.32 220.77,504.47 221.77,504.47 222.77,504.45 223.77,504.66 224.76,504.89 225.76,504.75 226.76,505.22 227.75,505.28 228.75,505.35 229.75,505.52 230.75,505.22 231.74,505.80 232.74,505.71 233.74,505.98 234.73,506.08 235.73,506.07 236.73,506.38 237.73,506.58 238.72,506.79 239.72,506.33 240.72,506.99 241.71,507.04 242.71,507.05 243.71,507.28 244.71,507.16 245.70,507.32 246.70,507.50 247.67,507.81 248.63,508.92 249.60,509.43 250.57,509.84 251.53,510.48 252.50,511.00 253.51,511.42 254.52,511.25 255.52,511.71 256.53,512.03 257.54,512.17 258.55,512.62 259.55,512.42 260.56,512.89 261.57,513.18 262.58,513.17 263.58,513.72 264.59,513.62 265.60,513.90" fill="none" stroke="#f03030" stroke-width="2.0" stroke-linejoin="round" />
<polyline points="33.20,480.00 33.62,478.71 34.04,477.64 34.46,476.70 34.88,475.97 35.30,474.60 36.27,474.52 37.25,474.19 38.23,473.72 39.20,473.30 40.55,472.65 41.90,472.00 42.55,471.20 43.20,470.30 43.85,469.62 44.50,468.40 45.15,467.52 45.80,466.70 46.07,465.87 46.33,464.95 46.60,463.94 46.87,462.63 47.13,461.95 47.40,460.76 47.67,459.80 47.93,458.82 48.20,457.71 48.47,456.81 48.73,456.17 49.00,455.28 49.27,453.90 49.53,453.43 49.80,452.20 50.10,451.16 50.40,450.34 50.70,448.88 51.00,447.89 51.30,447.31 51.60,445.87 51.90,444.81 52.20,444.17 52.50,442.79 52.80,442.00 53.10,441.22 53.40,439.78 53.70,439.00 54.23,438.29 54.76,437.41 55.29,436.53 55.82,435.39 56.35,434.59 56.88,433.28 57.41,432.60 57.94,431.87 58.47,430.94 59.00,429.80 59.88,428.85 60.77,428.50 61.65,427.49 62.53,426.81 63.42,426.23 64.30,425.30 65.29,425.20 66.28,424.80 67.26,424.91 68.25,424.76 69.24,424.49 70.22,423.83 71.21,423.61 72.20,423.70 73.35,423.40 74.50,423.00 74.68,421.74 74.86,420.71 75.04,420.16 75.22,418.65 75.40,417.90 76.25,418.44 77.10,419.13 77.95,420.18 78.80,420.60 79.82,421.01 80.84,421.06 81.87,421.01 82.89,420.95 83.91,421.60 84.93,421.30 85.96,421.70 86.98,421.92 88.00,421.90 88.96,422.21 89.93,422.75 90.89,423.09 91.85,423.06 92.82,423.57 93.78,423.51 94.75,424.02 95.71,424.48 96.67,424.55 97.64,424.91 98.60,425.30 99.25,424.66 99.90,423.70 100.93,423.92 101.97,424.73 103.00,424.65 104.03,425.09 105.07,425.71 106.10,425.87 107.13,426.63 108.17,426.73 109.20,427.20 110.15,427.45 111.11,428.25 112.06,428.57 113.02,429.17 113.97,429.33 114.93,429.77 115.88,430.39 116.84,430.99 117.79,431.27 118.75,431.75 119.70,432.40 120.64,433.16 121.57,433.35 122.51,433.97 123.45,434.84 124.38,435.47 125.32,435.89 126.25,436.07 127.19,437.00 128.13,437.15 129.06,438.13 130.00,438.50 130.83,438.99 131.67,439.58 132.50,440.33 133.33,440.79 134.17,441.73 135.00,442.44 135.83,442.97 136.67,443.68 137.50,443.92 138.33,444.61 139.17,445.58 140.00,446.00 140.77,446.63 141.54,447.61 142.31,448.23 143.08,448.71 143.85,449.49 144.62,450.64 145.38,451.36 146.15,451.90 146.92,452.29 147.69,453.02 148.46,454.30 149.23,454.95 150.00,455.50 150.71,456.37 151.43,456.86 152.14,458.00 152.86,458.24 153.57,459.36 154.29,460.11 155.00,460.67 155.71,461.69 156.43,462.06 157.14,463.28 157.86,464.01 158.57,464.40 159.29,465.15 160.00,466.00 160.67,466.94 161.33,467.44 162.00,468.35 162.67,469.18 163.33,470.10 164.00,470.75 164.67,471.23 165.33,472.05 166.00,472.65 166.67,473.85 167.33,474.64 168.00,475.03 168.67,475.95 169.33,476.64 170.00,477.50 170.65,478.20 171.31,478.88 171.96,480.06 172.61,481.10 173.27,481.47 173.92,482.65 174.57,483.50 175.23,484.19 175.88,485.21 176.53,485.79 177.19,486.74 177.84,487.24 178.49,488.12 179.15,489.22 179.80,490.00 180.53,490.93 181.26,491.43 181.99,492.44 182.73,492.90 183.46,493.57 184.19,494.52 184.92,495.33 185.65,496.04 186.38,496.62 187.11,497.08 187.84,497.86 188.57,498.73 189.31,499.15 190.04,500.03 190.77,501.05 191.50,501.60 192.33,502.07 193.16,502.94 193.99,503.35 194.81,503.88 195.64,504.62 196.47,505.24 197.30,505.83 198.13,506.48 198.96,507.47 199.79,507.88 200.61,508.46 201.44,508.94 202.27,509.58 203.10,510.51 203.93,510.86 204.76,511.37 205.59,512.14 206.41,512.93 207.24,513.72 208.07,514.28 208.90,514.70 209.87,515.06 210.83,515.23 211.80,516.03 212.77,515.89 213.73,516.58 214.70,517.18 215.67,517.16 216.63,517.65 217.60,517.88 218.57,518.32 219.53,518.50 220.50,519.10 221.47,519.45 222.44,519.77 223.41,519.71 224.39,519.91 225.36,520.33 226.33,520.67 227.30,520.99 228.27,521.44 229.24,521.60 230.21,521.58 231.19,521.85 232.16,522.38 233.13,522.49 234.10,523.15 235.07,523.39 236.04,523.70 237.01,523.87 237.99,523.90 238.96,524.52 239.93,524.50 240.90,524.90 241.89,524.99 242.88,525.21 243.86,525.71 244.85,526.34 245.84,526.47 246.83,526.75 247.82,526.87 248.80,527.20 249.79,527.77 250.78,528.12 251.77,528.01 252.76,528.46 253.74,528.69 254.73,528.81 255.72,529.29 256.71,529.33 257.70,530.04 258.68,530.10 259.67,530.54 260.66,530.91 261.65,530.87 262.64,531.59 263.62,531.91 264.61,531.90 265.60,532.20" fill="none" stroke="#3580e8" stroke-width="2.0" stroke-linejoin="round" />
<line x1="189.00" y1="420.30" x2="212.70" y2="420.30" stroke="#454545" stroke-width="1.3"/>
<line x1="189.00" y1="435.80" x2="212.70" y2="435.80" stroke="#f03030" stroke-width="1.3"/>
<line x1="189.00" y1="451.40" x2="212.70" y2="451.40" stroke="#3580e8" stroke-width="1.3"/>
<text x="215.2" y="425" font-size="10.3" text-anchor="start" fill="#111" font-weight="bold" textLength="31" lengthAdjust="spacingAndGlyphs"  stroke="#111" stroke-width="0.41">g-C<tspan font-size="6.8" dy="1.5">3</tspan><tspan dy="-1.5">N</tspan><tspan font-size="6.8" dy="1.5">4</tspan></text>
<text x="216" y="439.4" font-size="10.3" text-anchor="start" fill="#111" font-weight="bold" textLength="27" lengthAdjust="spacingAndGlyphs"  stroke="#111" stroke-width="0.41">MnO<tspan font-size="6.8" dy="1.5">2</tspan></text>
<text x="216" y="454.2" font-size="10.3" text-anchor="start" fill="#111" font-weight="bold" textLength="38.6" lengthAdjust="spacingAndGlyphs"  stroke="#111" stroke-width="0.41">Mn<tspan font-size="6.8" dy="1.5">1</tspan><tspan dy="-1.5">-CN</tspan><tspan font-size="6.8" dy="1.5">1</tspan></text>
<rect x="309.5" y="406.2" width="232.29999999999995" height="161.00000000000006" fill="none" stroke="#000" stroke-width="1.6"/>
<line x1="309.90" y1="567.20" x2="309.90" y2="564.70" stroke="#111" stroke-width="1"/>
<text x="309.9" y="578.2" font-size="8.4" text-anchor="middle" fill="#111" font-weight="bold"  stroke="#111" stroke-width="0.34">1</text>
<line x1="356.30" y1="567.20" x2="356.30" y2="564.70" stroke="#111" stroke-width="1"/>
<text x="356.29999999999995" y="578.2" font-size="8.4" text-anchor="middle" fill="#111" font-weight="bold"  stroke="#111" stroke-width="0.34">2</text>
<line x1="402.70" y1="567.20" x2="402.70" y2="564.70" stroke="#111" stroke-width="1"/>
<text x="402.7" y="578.2" font-size="8.4" text-anchor="middle" fill="#111" font-weight="bold"  stroke="#111" stroke-width="0.34">3</text>
<line x1="449.10" y1="567.20" x2="449.10" y2="564.70" stroke="#111" stroke-width="1"/>
<text x="449.09999999999997" y="578.2" font-size="8.4" text-anchor="middle" fill="#111" font-weight="bold"  stroke="#111" stroke-width="0.34">4</text>
<line x1="495.50" y1="567.20" x2="495.50" y2="564.70" stroke="#111" stroke-width="1"/>
<text x="495.5" y="578.2" font-size="8.4" text-anchor="middle" fill="#111" font-weight="bold"  stroke="#111" stroke-width="0.34">5</text>
<line x1="541.90" y1="567.20" x2="541.90" y2="564.70" stroke="#111" stroke-width="1"/>
<text x="541.9" y="578.2" font-size="8.4" text-anchor="middle" fill="#111" font-weight="bold"  stroke="#111" stroke-width="0.34">6</text>
<text x="421.5" y="596.7" font-size="16" text-anchor="start" fill="#111" font-weight="bold" textLength="16.5" lengthAdjust="spacingAndGlyphs"  stroke="#111" stroke-width="0.50">hv</text>
<text transform="translate(299.9,514.9) rotate(-90)" font-size="16" text-anchor="start" fill="#111" font-weight="bold" textLength="44.5" lengthAdjust="spacingAndGlyphs"  stroke="#111" stroke-width="0.50">(ahv)^</text>
<text transform="translate(291.0,470.8) rotate(-90)" font-size="13.5" text-anchor="start" fill="#111" font-weight="bold" textLength="10.5" lengthAdjust="spacingAndGlyphs"  stroke="#111" stroke-width="0.50">2</text>
<text x="315.5" y="419" font-size="11" text-anchor="start" fill="#111" font-weight="bold" textLength="12.7" lengthAdjust="spacingAndGlyphs"  stroke="#111" stroke-width="0.44">(f)</text>
<polyline points="336.20,557.60 337.20,557.33 338.20,557.65 339.20,557.65 340.21,557.36 341.21,557.68 342.21,557.36 343.21,557.33 344.21,557.21 345.21,557.51 346.22,557.57 347.22,557.52 348.22,557.27 349.22,557.24 350.22,557.08 351.22,557.13 352.23,557.16 353.23,557.12 354.23,557.00 355.23,557.20 356.23,556.95 357.23,557.22 358.24,556.90 359.24,557.11 360.24,556.93 361.24,556.95 362.24,557.25 363.24,556.86 364.25,557.26 365.25,557.19 366.25,557.14 367.25,557.06 368.25,557.16 369.25,556.84 370.26,556.93 371.26,556.68 372.26,556.65 373.26,556.88 374.26,556.98 375.26,557.18 376.27,557.08 377.27,556.59 378.27,557.09 379.27,556.76 380.27,556.76 381.27,556.58 382.28,556.53 383.28,556.72 384.28,556.76 385.28,556.93 386.28,556.80 387.28,556.50 388.29,556.72 389.29,556.84 390.29,556.47 391.29,556.48 392.29,556.44 393.29,556.86 394.30,556.34 395.30,556.62 396.30,556.44 397.30,556.50 398.29,556.39 399.28,556.01 400.27,555.59 401.26,555.73 402.25,555.29 403.25,554.74 404.24,554.61 405.23,554.34 406.22,554.18 407.21,553.84 408.20,553.89 409.19,553.62 410.18,553.24 411.17,552.92 412.16,552.90 413.15,552.50 414.15,552.49 415.14,552.30 416.13,551.97 417.12,551.85 418.11,551.23 419.10,551.10 420.05,550.96 420.99,550.35 421.94,550.28 422.88,549.79 423.83,549.24 424.78,548.89 425.72,548.89 426.67,548.32 427.62,547.78 428.56,547.69 429.51,547.08 430.45,546.68 431.40,546.60 432.42,546.40 433.44,546.66 434.46,546.26 435.48,546.60 436.50,546.05 437.52,546.17 438.54,545.92 439.56,546.27 440.58,546.17 441.60,546.22 442.62,546.18 443.64,546.18 444.66,545.84 445.68,545.75 446.70,545.84 447.72,545.71 448.74,545.48 449.76,545.57 450.78,545.49 451.80,545.50 452.80,545.62 453.80,545.02 454.80,545.30 455.80,545.18 456.80,545.19 457.80,544.87 458.80,544.84 459.80,544.38 460.80,544.72 461.80,544.11 462.80,544.33 463.80,543.92 464.80,543.88 465.80,544.04 466.80,543.75 467.80,543.82 468.80,543.43 469.80,543.24 470.80,543.28 471.80,543.26 472.80,543.33 473.80,543.26 474.80,542.85 475.80,543.08 476.80,542.70 477.84,542.88 478.87,542.80 479.91,543.14 480.95,543.39 481.98,543.59 483.02,543.34 484.05,544.00 485.09,543.90 486.13,543.71 487.16,544.03 488.20,544.30 489.16,544.83 490.12,544.69 491.07,545.17 492.03,545.71 492.99,545.71 493.95,546.39 494.91,546.64 495.86,546.77 496.82,547.42 497.78,547.31 498.74,547.71 499.69,548.37 500.65,548.60 501.61,548.70 502.57,549.13 503.53,549.73 504.48,549.65 505.44,549.91 506.40,550.50 507.39,550.64 508.39,550.60 509.38,551.02 510.38,550.90 511.37,551.00 512.36,551.39 513.36,551.74 514.35,551.63 515.34,552.02 516.34,552.17 517.33,552.16 518.32,552.19 519.32,552.21 520.31,552.17 521.31,552.58 522.30,552.70 523.31,552.57 524.32,552.87 525.33,552.85 526.34,552.99 527.35,553.06 528.36,553.11 529.37,553.40 530.38,553.24 531.39,553.04 532.41,553.56 533.42,553.54 534.43,553.38 535.44,553.49 536.45,553.62 537.46,553.58 538.47,553.81 539.48,554.07 540.49,553.57 541.50,553.90" fill="none" stroke="#4a4a4a" stroke-width="1.9" stroke-linejoin="round" />
<polyline points="335.10,555.50 336.13,555.61 337.16,555.48 338.18,555.20 339.21,554.74 340.24,554.70 341.27,554.38 342.29,554.13 343.32,553.79 344.35,553.64 345.38,553.65 346.41,553.33 347.43,553.10 348.46,553.19 349.49,552.78 350.52,552.98 351.54,552.28 352.57,552.19 353.60,552.20 354.60,552.02 355.59,551.74 356.59,552.04 357.58,551.67 358.58,551.23 359.57,551.20 360.57,551.42 361.56,551.01 362.56,550.87 363.55,550.68 364.55,550.41 365.55,550.80 366.54,550.36 367.54,550.18 368.53,549.95 369.53,550.09 370.52,550.13 371.52,550.14 372.51,550.00 373.51,549.23 374.50,549.43 375.50,549.30 376.52,549.17 377.54,549.10 378.57,548.90 379.59,549.14 380.61,548.79 381.63,548.56 382.65,548.81 383.68,548.39 384.70,547.92 385.72,548.23 386.74,548.35 387.76,548.02 388.78,547.59 389.81,547.92 390.83,547.24 391.85,547.69 392.87,547.08 393.89,547.46 394.92,546.88 395.94,546.74 396.96,546.70 397.98,546.76 399.00,546.78 400.02,546.53 401.05,546.11 402.07,546.61 403.09,546.42 404.11,545.97 405.13,545.62 406.16,545.77 407.18,546.04 408.20,545.60 409.18,545.72 410.17,544.97 411.15,544.79 412.13,545.13 413.12,544.49 414.10,544.54 415.08,544.50 416.07,544.23 417.05,544.01 418.03,543.68 419.02,543.62 420.00,543.20 421.02,542.84 422.05,543.14 423.07,542.49 424.10,542.26 425.12,542.54 426.15,542.52 427.18,542.19 428.20,541.93 429.23,541.38 430.25,541.52 431.27,541.10 432.30,541.19 433.32,540.93 434.35,540.57 435.38,540.68 436.40,540.68 437.43,540.46 438.45,539.89 439.48,540.28 440.50,539.80 441.05,539.25 441.60,538.00 442.15,537.58 442.70,536.40 443.67,535.78 444.64,535.53 445.61,535.44 446.59,534.51 447.56,534.33 448.53,533.66 449.50,533.60 450.20,532.58 450.90,531.86 451.60,531.37 452.30,530.41 453.00,529.50 454.13,528.62 455.27,528.51 456.40,527.70 457.41,527.77 458.41,527.34 459.42,527.14 460.42,527.42 461.43,527.45 462.43,526.84 463.44,526.80 464.44,526.69 465.45,527.03 466.46,526.27 467.46,526.14 468.47,526.14 469.47,526.23 470.48,526.47 471.48,525.71 472.49,526.13 473.49,525.83 474.50,525.70 475.51,526.27 476.52,526.62 477.53,526.75 478.54,526.72 479.56,527.49 480.57,527.16 481.58,528.14 482.59,528.04 483.60,528.40 484.43,528.86 485.25,529.90 486.08,530.25 486.91,530.79 487.74,531.35 488.56,532.05 489.39,532.55 490.22,533.36 491.05,533.92 491.87,534.42 492.70,535.20 493.65,535.33 494.60,535.91 495.55,536.82 496.50,537.25 497.45,537.87 498.40,537.80 499.35,538.82 500.30,539.27 501.25,539.37 502.20,540.27 503.15,540.76 504.10,540.90 505.11,541.29 506.12,541.24 507.13,541.61 508.14,541.26 509.16,541.39 510.17,541.55 511.18,542.09 512.19,542.42 513.20,542.04 514.21,542.15 515.22,542.82 516.23,542.96 517.24,542.59 518.26,542.67 519.27,542.99 520.28,543.14 521.29,543.11 522.30,543.60 523.31,543.41 524.32,543.96 525.33,543.48 526.34,543.82 527.35,544.07 528.36,544.13 529.37,543.91 530.38,543.85 531.39,544.12 532.41,544.13 533.42,544.26 534.43,544.21 535.44,544.40 536.45,544.82 537.46,544.20 538.47,544.42 539.48,544.92 540.49,544.74 541.50,544.80" fill="none" stroke="#ff1a1a" stroke-width="2.0" stroke-linejoin="round" />
<polyline points="335.10,557.20 336.13,557.18 337.16,556.47 338.18,556.89 339.21,555.99 340.24,556.32 341.27,555.72 342.29,555.83 343.32,555.68 344.35,555.41 345.38,555.35 346.41,554.62 347.43,554.85 348.46,554.47 349.49,553.95 350.52,553.75 351.54,553.45 352.57,553.80 353.60,553.30 354.58,552.81 355.56,552.46 356.53,551.94 357.51,552.05 358.49,551.51 359.47,550.89 360.44,550.94 361.42,550.39 362.40,550.00 363.21,549.52 364.02,548.77 364.84,547.89 365.65,547.15 366.46,546.84 367.27,545.65 368.09,544.91 368.90,544.50 369.56,543.88 370.22,542.89 370.88,542.19 371.54,541.10 372.20,540.50 372.86,539.23 373.52,538.10 374.18,537.66 374.84,536.50 375.50,535.80 376.14,534.89 376.78,534.04 377.42,533.17 378.06,532.47 378.71,531.69 379.35,530.49 379.99,530.23 380.63,529.01 381.27,528.45 381.91,527.34 382.55,526.35 383.19,525.66 383.84,524.75 384.48,523.97 385.12,523.39 385.76,522.56 386.40,521.60 387.04,520.55 387.68,520.08 388.32,519.19 388.96,518.05 389.61,517.51 390.25,516.31 390.89,515.91 391.53,514.80 392.17,514.20 392.81,513.61 393.45,512.62 394.09,511.69 394.74,510.87 395.38,509.81 396.02,509.14 396.66,508.02 397.30,507.50 397.92,506.66 398.55,506.16 399.17,505.00 399.80,504.34 400.42,503.62 401.04,502.55 401.67,501.41 402.29,501.18 402.91,500.01 403.54,499.12 404.16,498.03 404.79,497.66 405.41,496.91 406.03,495.86 406.66,494.78 407.28,494.31 407.90,493.12 408.53,492.39 409.15,491.48 409.78,490.85 410.40,490.00 411.11,489.39 411.82,488.61 412.52,487.62 413.23,486.95 413.94,486.22 414.65,485.71 415.36,485.31 416.07,484.38 416.77,483.80 417.48,482.55 418.19,481.78 418.90,481.40 419.49,480.58 420.09,479.52 420.68,478.74 421.27,478.18 421.87,476.88 422.46,476.58 423.05,475.41 423.65,474.69 424.24,473.46 424.83,472.63 425.43,472.21 426.02,470.92 426.61,470.49 427.21,469.41 427.80,468.70 428.40,467.71 429.01,467.32 429.61,466.41 430.22,465.17 430.82,464.38 431.43,463.47 432.03,462.50 432.64,462.24 433.24,461.18 433.85,460.37 434.45,459.32 435.06,458.32 435.66,457.77 436.27,456.66 436.87,456.28 437.48,455.45 438.08,454.62 438.69,453.24 439.29,452.45 439.90,452.00 440.50,450.90 441.04,450.01 441.57,449.20 442.11,448.44 442.65,447.22 443.18,446.53 443.72,445.40 444.26,444.49 444.79,444.28 445.33,443.24 445.87,442.30 446.41,441.14 446.94,440.34 447.48,439.90 448.02,439.09 448.55,437.97 449.09,437.30 449.63,436.06 450.16,435.51 450.70,434.40 451.13,435.61 451.57,436.30 452.00,437.85 452.43,438.26 452.87,439.49 453.30,440.70 453.97,439.94 454.65,439.49 455.32,438.32 455.99,437.39 456.67,437.06 457.34,436.26 458.01,435.11 458.69,434.75 459.36,433.78 460.03,433.04 460.71,432.65 461.38,431.81 462.05,431.15 462.73,430.20 463.40,429.30 464.25,428.58 465.10,427.93 465.95,427.12 466.80,426.43 467.65,426.10 468.50,425.21 469.35,424.87 470.20,423.97 471.05,423.53 471.90,423.16 472.75,422.22 473.60,421.60 474.51,421.43 475.43,420.52 476.34,419.93 477.26,419.86 478.17,419.20 479.09,418.89 480.00,418.30 480.91,418.83 481.83,419.20 482.74,419.62 483.66,419.99 484.57,421.00 485.49,420.92 486.40,421.60 486.93,422.45 487.46,423.62 487.99,424.44 488.53,425.43 489.06,426.05 489.59,426.69 490.12,427.97 490.65,428.29 491.18,429.77 491.72,430.30 492.25,431.34 492.78,432.36 493.31,432.97 493.84,434.06 494.37,434.94 494.91,435.59 495.44,436.74 495.97,437.15 496.50,438.20 496.93,438.88 497.36,440.18 497.78,441.18 498.21,441.80 498.64,442.45 499.07,443.65 499.49,444.42 499.92,445.23 500.35,446.22 500.78,447.44 501.21,448.20 501.63,449.41 502.06,449.92 502.49,451.11 502.92,451.79 503.34,452.72 503.77,453.54 504.20,454.70 504.96,455.64 505.72,456.09 506.48,457.13 507.24,457.91 508.00,458.59 508.76,459.43 509.52,460.22 510.28,460.58 511.04,461.82 511.80,462.40 512.53,463.13 513.26,464.05 513.99,464.27 514.71,464.95 515.44,466.07 516.17,466.55 516.90,467.40 517.99,467.93 519.07,467.64 520.16,467.92 521.24,468.03 522.33,468.37 523.41,468.31 524.50,468.70 525.28,468.34 526.07,467.17 526.85,466.94 527.64,466.30 528.42,465.16 529.21,464.81 529.99,464.19 530.78,462.90 531.56,462.87 532.35,461.77 533.13,461.06 533.92,460.70 534.70,459.80 535.57,460.43 536.43,461.20 537.30,462.40 538.14,462.05 538.98,460.70 539.82,460.46 540.66,459.73 541.50,459.00" fill="none" stroke="#1010ee" stroke-width="2.0" stroke-linejoin="round" />
<line x1="351.50" y1="567.20" x2="364.50" y2="548.90" stroke="#1010ee" stroke-width="1.3" stroke-dasharray="3 2"/>
<line x1="340.50" y1="567.20" x2="414.70" y2="546.30" stroke="#ff1a1a" stroke-width="1.2" stroke-dasharray="3 2"/>
<line x1="390.70" y1="566.40" x2="421.30" y2="553.30" stroke="#222" stroke-width="1.2" stroke-dasharray="3 2"/>
<line x1="401.60" y1="566.40" x2="419.10" y2="560.90" stroke="#222" stroke-width="1.0"/>
<line x1="327.50" y1="553.30" x2="341.60" y2="567.20" stroke="#ff1a1a" stroke-width="1.2"/>
<text x="316.5" y="552.2" font-size="9.6" text-anchor="start" fill="#111" font-weight="bold" textLength="31.7" lengthAdjust="spacingAndGlyphs"  stroke="#111" stroke-width="0.38">1.71 eV</text>
<text x="424.1" y="563.6" font-size="9.6" text-anchor="start" fill="#111" font-weight="bold" textLength="32.3" lengthAdjust="spacingAndGlyphs"  stroke="#111" stroke-width="0.38">2.67 eV</text>
<line x1="337.30" y1="414.90" x2="360.90" y2="414.90" stroke="#4a4a4a" stroke-width="1.3"/>
<line x1="337.30" y1="430.00" x2="360.90" y2="430.00" stroke="#1010ee" stroke-width="1.3"/>
<line x1="337.30" y1="445.10" x2="360.90" y2="445.10" stroke="#ff1a1a" stroke-width="1.3"/>
<text x="362.7" y="419.1" font-size="10.3" text-anchor="start" fill="#111" font-weight="bold" textLength="30.9" lengthAdjust="spacingAndGlyphs"  stroke="#111" stroke-width="0.41">g-C<tspan font-size="6.8" dy="1.5">3</tspan><tspan dy="-1.5">N</tspan><tspan font-size="6.8" dy="1.5">4</tspan></text>
<text x="363.6" y="434.2" font-size="10.3" text-anchor="start" fill="#111" font-weight="bold" textLength="38" lengthAdjust="spacingAndGlyphs"  stroke="#111" stroke-width="0.41">Mn<tspan font-size="6.8" dy="1.5">1</tspan><tspan dy="-1.5">-CN</tspan><tspan font-size="6.8" dy="1.5">1</tspan></text>
<text x="363.6" y="449.1" font-size="10.5" text-anchor="start" fill="#111" font-weight="bold" textLength="27.3" lengthAdjust="spacingAndGlyphs"  stroke="#111" stroke-width="0.42">MnO<tspan font-size="9" dy="2">2</tspan></text>
</svg></body></html>
